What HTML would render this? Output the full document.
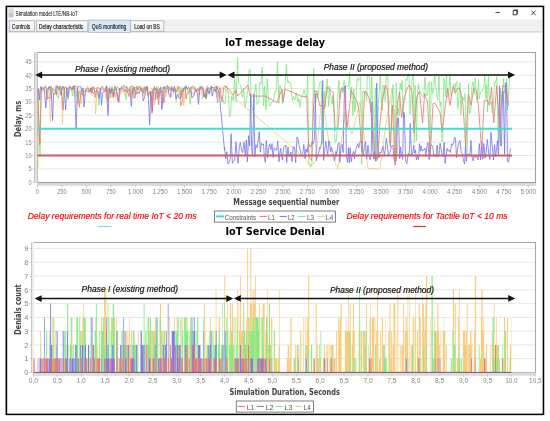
<!DOCTYPE html>
<html><head><meta charset="utf-8"><title>Simulation model LTE/NB-IoT</title><style>html,body{margin:0;padding:0;background:#fff;overflow:hidden}svg{display:block}</style></head><body>
<svg width="550" height="421" viewBox="0 0 550 421"><defs><clipPath id="c1"><rect x="37.5" y="52.5" width="498" height="130"/></clipPath></defs><rect x="0" y="0" width="550" height="421" fill="#fff"/>
<defs><linearGradient id="tg" x1="0" y1="0" x2="0" y2="1"><stop offset="0" stop-color="#eeeeee"/><stop offset="1" stop-color="#f6f3f1"/></linearGradient><linearGradient id="tb" x1="0" y1="0" x2="0" y2="1"><stop offset="0" stop-color="#fcfcfc"/><stop offset="1" stop-color="#f1f1f1"/></linearGradient></defs>
<rect x="7" y="19.5" width="535" height="12" fill="url(#tg)"/>
<rect x="7" y="31.3" width="535" height="1.2" fill="#bcd2ea"/>
<rect x="9.5" y="20.8" width="25.0" height="10.5" fill="url(#tb)" stroke="#b0b0b0" stroke-width="0.8"/>
<text x="11.8" y="28.5" font-family="Liberation Sans, sans-serif" font-size="6.8" font-weight="normal" font-style="normal" fill="#222" text-anchor="start" textLength="18.5" lengthAdjust="spacingAndGlyphs" stroke="#333" stroke-width="0.2">Controls</text>
<rect x="36.5" y="20.8" width="51.3" height="10.5" fill="url(#tb)" stroke="#b0b0b0" stroke-width="0.8"/>
<text x="38.7" y="28.5" font-family="Liberation Sans, sans-serif" font-size="6.8" font-weight="normal" font-style="normal" fill="#222" text-anchor="start" textLength="44.7" lengthAdjust="spacingAndGlyphs" stroke="#333" stroke-width="0.2">Delay characteristic</text>
<rect x="88.8" y="20.2" width="41.7" height="12.3" fill="#dae7f6" stroke="#a9bcd4" stroke-width="0.8"/>
<text x="91.8" y="28.5" font-family="Liberation Sans, sans-serif" font-size="6.8" font-weight="normal" font-style="normal" fill="#222" text-anchor="start" textLength="34.4" lengthAdjust="spacingAndGlyphs" stroke="#333" stroke-width="0.2">QoS monitoring</text>
<rect x="130.7" y="20.8" width="33.10000000000002" height="10.5" fill="url(#tb)" stroke="#b0b0b0" stroke-width="0.8"/>
<text x="134.2" y="28.5" font-family="Liberation Sans, sans-serif" font-size="6.8" font-weight="normal" font-style="normal" fill="#222" text-anchor="start" textLength="25.6" lengthAdjust="spacingAndGlyphs" stroke="#333" stroke-width="0.2">Load on BS</text>
<rect x="8.2" y="8.2" width="5.8" height="9.5" rx="0.8" fill="#d9dee6"/>
<circle cx="11" cy="11.4" r="1.7" fill="#efd9b9"/>
<rect x="9.3" y="13.2" width="3.6" height="3.8" fill="#b9c7da"/>
<text x="15.5" y="16.4" font-family="Liberation Sans, sans-serif" font-size="7.2" font-weight="normal" font-style="normal" fill="#222" text-anchor="start" textLength="62.3" lengthAdjust="spacingAndGlyphs" stroke="#333" stroke-width="0.12">Simulation model LTE/NB-IoT</text>
<rect x="495.5" y="12" width="4.3" height="0.9" fill="#333"/>
<rect x="513.2" y="10.6" width="3.6" height="4.2" fill="none" stroke="#333" stroke-width="0.9"/>
<path d="M514.4 10.4 V9.8 H517.6 V13.6 H517" fill="none" stroke="#333" stroke-width="0.8"/>
<path d="M531.4 10.6 L535.6 15.2 M535.6 10.6 L531.4 15.2" stroke="#333" stroke-width="0.9"/>
<line x1="7.5" y1="7" x2="7.5" y2="414" stroke="#d4dcee" stroke-width="1"/>
<line x1="542.3" y1="7" x2="542.3" y2="414" stroke="#cfd8e6" stroke-width="0.8"/>
<rect x="6.3" y="6.4" width="537.2" height="408" fill="none" stroke="#000" stroke-width="1.5"/>
<text x="275" y="45.6" font-family="DejaVu Sans, sans-serif" font-size="11" font-weight="bold" font-style="normal" fill="#000" text-anchor="middle" textLength="100" lengthAdjust="spacingAndGlyphs">IoT message delay</text>
<line x1="37.5" y1="168.9" x2="535.5" y2="168.9" stroke="#e4e4e4" stroke-width="0.9"/>
<line x1="37.5" y1="155.5" x2="535.5" y2="155.5" stroke="#e4e4e4" stroke-width="0.9"/>
<line x1="37.5" y1="142.1" x2="535.5" y2="142.1" stroke="#e4e4e4" stroke-width="0.9"/>
<line x1="37.5" y1="128.7" x2="535.5" y2="128.7" stroke="#e4e4e4" stroke-width="0.9"/>
<line x1="37.5" y1="115.4" x2="535.5" y2="115.4" stroke="#e4e4e4" stroke-width="0.9"/>
<line x1="37.5" y1="102.0" x2="535.5" y2="102.0" stroke="#e4e4e4" stroke-width="0.9"/>
<line x1="37.5" y1="88.6" x2="535.5" y2="88.6" stroke="#e4e4e4" stroke-width="0.9"/>
<line x1="37.5" y1="75.2" x2="535.5" y2="75.2" stroke="#e4e4e4" stroke-width="0.9"/>
<line x1="37.5" y1="61.8" x2="535.5" y2="61.8" stroke="#e4e4e4" stroke-width="0.9"/>
<rect x="37.5" y="52.5" width="498" height="130" fill="none" stroke="#a0a0a0" stroke-width="1"/>
<rect x="34" y="52" width="3.5" height="131" fill="#e2e2e2"/>
<line x1="34.6" y1="52.5" x2="34.6" y2="183" stroke="#cacaca" stroke-width="1.2"/>
<rect x="37" y="183" width="499" height="2.8" fill="#d8d8d8"/>
<line x1="32.5" y1="182.3" x2="34.6" y2="182.3" stroke="#bbb" stroke-width="0.8"/>
<text x="31.6" y="184.70000000000002" font-family="Liberation Sans, sans-serif" font-size="7" font-weight="normal" font-style="normal" fill="#858585" text-anchor="end" textLength="3.15" lengthAdjust="spacingAndGlyphs">0</text>
<line x1="32.5" y1="168.9" x2="34.6" y2="168.9" stroke="#bbb" stroke-width="0.8"/>
<text x="31.6" y="171.31000000000003" font-family="Liberation Sans, sans-serif" font-size="7" font-weight="normal" font-style="normal" fill="#858585" text-anchor="end" textLength="3.15" lengthAdjust="spacingAndGlyphs">5</text>
<line x1="32.5" y1="155.5" x2="34.6" y2="155.5" stroke="#bbb" stroke-width="0.8"/>
<text x="31.6" y="157.92000000000002" font-family="Liberation Sans, sans-serif" font-size="7" font-weight="normal" font-style="normal" fill="#858585" text-anchor="end" textLength="6.3" lengthAdjust="spacingAndGlyphs">10</text>
<line x1="32.5" y1="142.1" x2="34.6" y2="142.1" stroke="#bbb" stroke-width="0.8"/>
<text x="31.6" y="144.53" font-family="Liberation Sans, sans-serif" font-size="7" font-weight="normal" font-style="normal" fill="#858585" text-anchor="end" textLength="6.3" lengthAdjust="spacingAndGlyphs">15</text>
<line x1="32.5" y1="128.7" x2="34.6" y2="128.7" stroke="#bbb" stroke-width="0.8"/>
<text x="31.6" y="131.14000000000001" font-family="Liberation Sans, sans-serif" font-size="7" font-weight="normal" font-style="normal" fill="#858585" text-anchor="end" textLength="6.3" lengthAdjust="spacingAndGlyphs">20</text>
<line x1="32.5" y1="115.4" x2="34.6" y2="115.4" stroke="#bbb" stroke-width="0.8"/>
<text x="31.6" y="117.75000000000001" font-family="Liberation Sans, sans-serif" font-size="7" font-weight="normal" font-style="normal" fill="#858585" text-anchor="end" textLength="6.3" lengthAdjust="spacingAndGlyphs">25</text>
<line x1="32.5" y1="102.0" x2="34.6" y2="102.0" stroke="#bbb" stroke-width="0.8"/>
<text x="31.6" y="104.36000000000001" font-family="Liberation Sans, sans-serif" font-size="7" font-weight="normal" font-style="normal" fill="#858585" text-anchor="end" textLength="6.3" lengthAdjust="spacingAndGlyphs">30</text>
<line x1="32.5" y1="88.6" x2="34.6" y2="88.6" stroke="#bbb" stroke-width="0.8"/>
<text x="31.6" y="90.97000000000001" font-family="Liberation Sans, sans-serif" font-size="7" font-weight="normal" font-style="normal" fill="#858585" text-anchor="end" textLength="6.3" lengthAdjust="spacingAndGlyphs">35</text>
<line x1="32.5" y1="75.2" x2="34.6" y2="75.2" stroke="#bbb" stroke-width="0.8"/>
<text x="31.6" y="77.58000000000001" font-family="Liberation Sans, sans-serif" font-size="7" font-weight="normal" font-style="normal" fill="#858585" text-anchor="end" textLength="6.3" lengthAdjust="spacingAndGlyphs">40</text>
<line x1="32.5" y1="61.8" x2="34.6" y2="61.8" stroke="#bbb" stroke-width="0.8"/>
<text x="31.6" y="64.19000000000003" font-family="Liberation Sans, sans-serif" font-size="7" font-weight="normal" font-style="normal" fill="#858585" text-anchor="end" textLength="6.3" lengthAdjust="spacingAndGlyphs">45</text>
<line x1="37.4" y1="185.4" x2="37.4" y2="187.3" stroke="#bbb" stroke-width="0.8"/>
<text x="37.4" y="193.6" font-family="Liberation Sans, sans-serif" font-size="7" font-weight="normal" font-style="normal" fill="#858585" text-anchor="middle" textLength="3.15" lengthAdjust="spacingAndGlyphs">0</text>
<line x1="61.9" y1="185.4" x2="61.9" y2="187.3" stroke="#bbb" stroke-width="0.8"/>
<text x="61.9" y="193.6" font-family="Liberation Sans, sans-serif" font-size="7" font-weight="normal" font-style="normal" fill="#858585" text-anchor="middle" textLength="9.45" lengthAdjust="spacingAndGlyphs">250</text>
<line x1="86.5" y1="185.4" x2="86.5" y2="187.3" stroke="#bbb" stroke-width="0.8"/>
<text x="86.5" y="193.6" font-family="Liberation Sans, sans-serif" font-size="7" font-weight="normal" font-style="normal" fill="#858585" text-anchor="middle" textLength="9.45" lengthAdjust="spacingAndGlyphs">500</text>
<line x1="111.0" y1="185.4" x2="111.0" y2="187.3" stroke="#bbb" stroke-width="0.8"/>
<text x="111.0" y="193.6" font-family="Liberation Sans, sans-serif" font-size="7" font-weight="normal" font-style="normal" fill="#858585" text-anchor="middle" textLength="9.45" lengthAdjust="spacingAndGlyphs">750</text>
<line x1="135.6" y1="185.4" x2="135.6" y2="187.3" stroke="#bbb" stroke-width="0.8"/>
<text x="135.6" y="193.6" font-family="Liberation Sans, sans-serif" font-size="7" font-weight="normal" font-style="normal" fill="#858585" text-anchor="middle" textLength="15.2" lengthAdjust="spacingAndGlyphs">1&#8201;000</text>
<line x1="160.2" y1="185.4" x2="160.2" y2="187.3" stroke="#bbb" stroke-width="0.8"/>
<text x="160.2" y="193.6" font-family="Liberation Sans, sans-serif" font-size="7" font-weight="normal" font-style="normal" fill="#858585" text-anchor="middle" textLength="15.2" lengthAdjust="spacingAndGlyphs">1&#8201;250</text>
<line x1="184.7" y1="185.4" x2="184.7" y2="187.3" stroke="#bbb" stroke-width="0.8"/>
<text x="184.7" y="193.6" font-family="Liberation Sans, sans-serif" font-size="7" font-weight="normal" font-style="normal" fill="#858585" text-anchor="middle" textLength="15.2" lengthAdjust="spacingAndGlyphs">1&#8201;500</text>
<line x1="209.2" y1="185.4" x2="209.2" y2="187.3" stroke="#bbb" stroke-width="0.8"/>
<text x="209.2" y="193.6" font-family="Liberation Sans, sans-serif" font-size="7" font-weight="normal" font-style="normal" fill="#858585" text-anchor="middle" textLength="15.2" lengthAdjust="spacingAndGlyphs">1&#8201;750</text>
<line x1="233.8" y1="185.4" x2="233.8" y2="187.3" stroke="#bbb" stroke-width="0.8"/>
<text x="233.8" y="193.6" font-family="Liberation Sans, sans-serif" font-size="7" font-weight="normal" font-style="normal" fill="#858585" text-anchor="middle" textLength="15.2" lengthAdjust="spacingAndGlyphs">2&#8201;000</text>
<line x1="258.3" y1="185.4" x2="258.3" y2="187.3" stroke="#bbb" stroke-width="0.8"/>
<text x="258.3" y="193.6" font-family="Liberation Sans, sans-serif" font-size="7" font-weight="normal" font-style="normal" fill="#858585" text-anchor="middle" textLength="15.2" lengthAdjust="spacingAndGlyphs">2&#8201;250</text>
<line x1="282.9" y1="185.4" x2="282.9" y2="187.3" stroke="#bbb" stroke-width="0.8"/>
<text x="282.9" y="193.6" font-family="Liberation Sans, sans-serif" font-size="7" font-weight="normal" font-style="normal" fill="#858585" text-anchor="middle" textLength="15.2" lengthAdjust="spacingAndGlyphs">2&#8201;500</text>
<line x1="307.4" y1="185.4" x2="307.4" y2="187.3" stroke="#bbb" stroke-width="0.8"/>
<text x="307.4" y="193.6" font-family="Liberation Sans, sans-serif" font-size="7" font-weight="normal" font-style="normal" fill="#858585" text-anchor="middle" textLength="15.2" lengthAdjust="spacingAndGlyphs">2&#8201;750</text>
<line x1="332.0" y1="185.4" x2="332.0" y2="187.3" stroke="#bbb" stroke-width="0.8"/>
<text x="332.0" y="193.6" font-family="Liberation Sans, sans-serif" font-size="7" font-weight="normal" font-style="normal" fill="#858585" text-anchor="middle" textLength="15.2" lengthAdjust="spacingAndGlyphs">3&#8201;000</text>
<line x1="356.5" y1="185.4" x2="356.5" y2="187.3" stroke="#bbb" stroke-width="0.8"/>
<text x="356.5" y="193.6" font-family="Liberation Sans, sans-serif" font-size="7" font-weight="normal" font-style="normal" fill="#858585" text-anchor="middle" textLength="15.2" lengthAdjust="spacingAndGlyphs">3&#8201;250</text>
<line x1="381.1" y1="185.4" x2="381.1" y2="187.3" stroke="#bbb" stroke-width="0.8"/>
<text x="381.1" y="193.6" font-family="Liberation Sans, sans-serif" font-size="7" font-weight="normal" font-style="normal" fill="#858585" text-anchor="middle" textLength="15.2" lengthAdjust="spacingAndGlyphs">3&#8201;500</text>
<line x1="405.6" y1="185.4" x2="405.6" y2="187.3" stroke="#bbb" stroke-width="0.8"/>
<text x="405.6" y="193.6" font-family="Liberation Sans, sans-serif" font-size="7" font-weight="normal" font-style="normal" fill="#858585" text-anchor="middle" textLength="15.2" lengthAdjust="spacingAndGlyphs">3&#8201;750</text>
<line x1="430.2" y1="185.4" x2="430.2" y2="187.3" stroke="#bbb" stroke-width="0.8"/>
<text x="430.2" y="193.6" font-family="Liberation Sans, sans-serif" font-size="7" font-weight="normal" font-style="normal" fill="#858585" text-anchor="middle" textLength="15.2" lengthAdjust="spacingAndGlyphs">4&#8201;000</text>
<line x1="454.7" y1="185.4" x2="454.7" y2="187.3" stroke="#bbb" stroke-width="0.8"/>
<text x="454.7" y="193.6" font-family="Liberation Sans, sans-serif" font-size="7" font-weight="normal" font-style="normal" fill="#858585" text-anchor="middle" textLength="15.2" lengthAdjust="spacingAndGlyphs">4&#8201;250</text>
<line x1="479.3" y1="185.4" x2="479.3" y2="187.3" stroke="#bbb" stroke-width="0.8"/>
<text x="479.3" y="193.6" font-family="Liberation Sans, sans-serif" font-size="7" font-weight="normal" font-style="normal" fill="#858585" text-anchor="middle" textLength="15.2" lengthAdjust="spacingAndGlyphs">4&#8201;500</text>
<line x1="503.8" y1="185.4" x2="503.8" y2="187.3" stroke="#bbb" stroke-width="0.8"/>
<text x="503.8" y="193.6" font-family="Liberation Sans, sans-serif" font-size="7" font-weight="normal" font-style="normal" fill="#858585" text-anchor="middle" textLength="15.2" lengthAdjust="spacingAndGlyphs">4&#8201;750</text>
<line x1="528.4" y1="185.4" x2="528.4" y2="187.3" stroke="#bbb" stroke-width="0.8"/>
<text x="528.4" y="193.6" font-family="Liberation Sans, sans-serif" font-size="7" font-weight="normal" font-style="normal" fill="#858585" text-anchor="middle" textLength="15.2" lengthAdjust="spacingAndGlyphs">5&#8201;000</text>
<text x="286.3" y="205" font-family="DejaVu Sans, sans-serif" font-size="8" font-weight="bold" font-style="normal" fill="#444" text-anchor="middle" textLength="106" lengthAdjust="spacingAndGlyphs">Message sequential number</text>
<text transform="translate(21,118.9) rotate(-90)" x="0" y="0" font-family="DejaVu Sans, sans-serif" font-size="8" font-weight="bold" fill="#444" text-anchor="middle" textLength="36.3" lengthAdjust="spacingAndGlyphs">Delay, ms</text>
<g clip-path="url(#c1)">
<polyline points="37.4,155.5 38.0,167.6 39.0,91.2 40.1,91.4 41.3,91.6 42.5,92.9 44.0,88.6 45.1,91.4 46.2,92.6 47.7,97.7 48.8,87.3 50.4,122.6 51.7,88.8 52.8,91.5 54.4,94.9 55.5,94.7 57.1,95.2 58.3,89.3 59.3,86.8 60.2,88.0 61.3,89.0 62.5,124.5 63.7,88.0 64.8,87.3 65.9,86.2 66.9,90.6 68.4,90.5 69.5,89.1 70.4,86.3 72.1,91.6 73.0,85.8 74.5,86.0 75.8,96.9 76.9,91.2 78.0,104.7 78.9,91.0 80.4,90.2 81.4,103.9 82.4,91.7 83.5,91.1 84.4,90.5 86.0,88.6 87.5,85.7 88.8,89.4 89.7,90.5 91.3,95.3 92.2,90.5 93.2,86.5 94.2,86.1 95.6,113.7 97.2,87.0 98.6,91.5 99.7,92.1 101.3,87.8 102.8,86.8 104.1,87.6 105.2,91.6 106.1,99.6 107.5,86.3 108.5,102.0 109.5,88.0 110.8,91.8 111.8,86.1 112.7,98.4 114.3,92.2 115.6,97.7 117.0,86.3 118.5,88.7 119.4,88.2 120.6,94.4 121.6,87.1 122.9,86.7 124.5,88.6 125.7,96.8 126.7,85.8 127.7,88.1 129.3,89.3 130.8,98.7 132.4,90.1 133.9,86.9 134.9,97.9 135.9,89.9 137.3,93.6 138.1,88.5 139.4,88.9 140.4,86.6 141.5,91.4 142.9,88.1 144.0,95.5 145.6,86.5 147.1,89.2 148.1,96.4 149.5,91.5 150.5,97.9 152.1,88.3 153.3,91.5 154.5,105.9 155.9,90.1 156.8,85.9 158.3,92.8 159.9,88.3 161.2,86.0 162.7,106.4 164.1,87.3 165.5,96.8 167.1,88.2 168.7,90.1 169.7,88.0 171.4,96.1 172.6,97.0 173.8,90.9 175.1,88.1 176.3,102.3 177.3,85.8 178.9,94.4 180.1,90.4 181.1,92.1 182.6,90.5 183.7,106.0 185.3,88.5 186.9,88.7 187.9,91.8 189.0,91.7 190.7,86.3 192.1,94.0 193.8,93.5 195.1,87.4 196.4,91.1 197.9,91.6 199.0,97.2 200.2,86.5 201.3,89.3 202.2,99.1 203.8,91.0 205.4,97.4 206.7,87.4 207.7,91.3 209.2,91.8 210.4,92.6 211.7,88.1 213.3,87.9 214.9,91.8 216.3,86.5 217.7,86.3 219.1,86.7 220.6,92.2 222.0,88.2 224.0,88.6 305.0,158.2 310.0,166.2 316.0,160.9 322.0,93.9 330.0,150.2 338.0,168.9 345.0,112.7 352.0,134.1 360.0,102.0 368.0,168.9 372.0,168.9 380.0,168.9 386.0,123.4 392.0,88.6 398.0,155.5 404.9,155.5 413.0,155.5 420.1,155.5 426.6,155.5 434.4,155.5 441.7,155.5 448.1,155.5 454.6,155.5 462.8,155.5 468.7,155.5 476.8,155.5 484.2,155.5 492.2,155.5 500.1,155.5 508.0,155.5" fill="none" stroke="#f4c872" stroke-width="0.78" stroke-opacity="1" stroke-linejoin="round"/>
<polyline points="37.4,88.6 40.0,155.5 41.3,88.6 42.5,88.6 43.7,88.0 44.6,86.7 45.7,85.7 47.0,95.5 48.3,88.0 49.9,87.3 51.3,87.2 52.7,91.9 54.2,87.4 55.8,86.1 57.0,95.7 58.6,98.5 59.6,85.8 60.8,90.1 62.1,89.8 63.5,86.2 64.9,92.4 66.5,91.0 68.1,100.0 69.4,90.7 71.0,90.2 71.9,91.3 72.9,96.0 73.9,87.1 75.4,88.1 76.3,89.9 77.9,103.3 79.6,91.6 80.9,90.8 82.2,91.0 83.1,96.8 84.7,96.2 86.0,87.9 87.3,88.1 88.9,89.3 90.4,90.1 92.0,88.5 92.9,88.3 93.8,88.0 94.8,89.1 96.2,87.5 97.6,91.7 99.0,105.3 100.3,90.0 101.5,89.7 102.8,89.6 104.3,88.4 105.8,90.6 107.3,90.8 108.5,91.4 109.6,86.7 110.9,97.9 112.0,86.4 113.3,91.3 114.6,86.9 116.1,90.3 117.6,86.9 118.8,90.2 120.3,89.8 121.5,89.4 123.1,92.0 124.7,91.4 125.9,99.9 127.0,92.6 128.4,90.2 129.6,91.6 130.9,86.8 131.8,93.7 133.4,92.1 134.8,87.3 135.8,87.8 137.1,86.0 138.5,90.4 140.0,87.0 141.2,88.6 142.7,87.0 144.3,92.7 145.2,86.5 146.1,90.3 147.4,89.0 148.9,91.7 149.9,91.6 151.5,98.6 152.8,90.0 154.0,88.3 155.2,89.9 156.1,87.4 157.3,90.9 158.5,87.0 159.7,94.3 160.9,88.9 162.3,87.6 163.6,88.6 165.0,89.3 166.2,91.8 167.4,92.9 168.5,91.3 170.0,86.3 171.5,87.3 172.8,88.3 173.7,87.1 174.7,91.4 176.2,91.9 177.8,86.6 179.2,91.6 180.5,99.0 182.0,87.5 183.0,91.8 183.9,88.4 185.4,90.9 186.5,87.2 187.7,89.5 188.9,91.5 190.2,104.0 191.6,87.6 193.1,88.7 194.4,86.3 195.4,87.2 197.0,89.2 198.4,90.3 199.5,90.0 200.5,85.9 201.6,89.4 203.2,90.3 204.3,89.0 205.4,89.7 206.6,98.1 208.2,88.2 209.5,92.7 210.8,87.4 212.4,87.3 214.0,90.6 215.1,87.7 216.7,97.3 217.7,90.8 219.2,92.1 220.3,96.8 221.5,98.6 222.4,96.9 224.0,104.0 225.2,103.2 226.3,85.0 227.3,87.8 228.4,94.1 229.6,117.0 230.6,113.7 231.7,96.6 233.3,100.9 234.6,79.2 236.1,101.3 237.5,57.8 238.5,81.7 239.9,83.8 241.3,88.4 242.4,97.4 243.6,88.3 245.1,107.6 246.6,98.3 247.7,91.2 249.1,69.8 250.2,69.8 251.5,104.5 252.8,111.1 254.3,93.9 255.8,84.1 257.1,104.4 258.7,101.6 259.8,82.2 261.1,84.1 262.2,67.1 263.6,106.2 264.6,86.0 266.0,109.8 267.2,78.3 268.3,96.3 269.5,106.0 270.5,105.8 271.9,101.6 273.4,101.9 274.6,91.9 276.1,91.9 277.5,61.8 278.9,103.4 280.0,85.4 281.5,90.2 282.6,103.8 283.8,96.1 285.0,86.4 286.3,64.5 287.7,82.9 288.7,80.9 289.8,83.3 291.0,83.2 292.3,101.0 293.4,96.5 294.9,100.0 296.2,92.6 297.8,102.0 298.8,98.6 300.0,107.3 301.2,98.5 302.7,95.4 304.2,89.5 305.7,97.9 306.7,96.7 307.7,75.5 308.8,162.4 309.7,164.3 310.8,167.2 312.0,164.0 312.8,107.0 313.7,68.5 314.5,88.1 315.8,100.6 316.8,90.5 317.8,98.0 318.6,89.6 319.6,82.7 320.9,81.5 321.8,99.4 323.0,144.1 324.2,91.0 325.2,107.0 326.4,81.4 327.4,79.0 328.6,106.2 329.8,86.3 331.0,98.1 332.1,104.0 332.9,95.5 333.9,111.3 334.8,140.1 335.9,142.8 336.8,135.1 337.7,98.9 338.9,80.0 339.9,99.3 341.0,88.3 342.0,88.4 342.8,93.1 344.0,80.2 344.9,84.8 346.1,85.3 347.2,86.6 348.4,86.7 349.6,72.1 350.4,97.8 351.7,86.9 352.9,115.7 353.9,89.0 354.7,112.3 355.7,104.8 356.7,83.3 357.5,77.8 358.4,81.2 359.5,77.8 360.6,76.7 361.7,164.4 362.6,92.2 363.4,90.3 364.4,93.6 365.6,90.6 366.6,100.9 367.4,74.6 368.6,76.7 369.6,77.5 370.7,112.3 371.7,77.1 372.5,101.6 373.6,108.9 374.4,159.3 375.3,88.2 376.2,161.2 377.2,159.3 378.3,102.5 379.3,91.4 380.3,74.4 381.1,92.5 382.3,110.4 383.1,85.4 384.3,88.9 385.3,101.2 386.2,74.5 387.5,74.6 388.4,97.5 389.5,142.8 390.7,143.1 391.8,101.0 393.0,84.4 393.9,111.6 394.9,161.5 396.2,82.9 397.3,115.3 398.3,108.3 399.2,116.1 400.1,83.1 401.2,89.6 402.1,80.6 403.1,117.3 404.1,98.7 405.2,99.9 406.0,78.6 407.0,80.4 408.1,73.5 409.0,74.1 410.1,114.4 411.1,95.6 412.1,79.0 413.2,74.0 414.3,142.4 415.1,85.0 416.4,140.6 417.4,94.8 418.4,83.4 419.5,92.1 420.4,91.8 421.7,95.0 422.7,96.3 423.7,96.7 424.9,77.2 426.0,93.9 427.2,96.0 428.2,84.3 429.2,82.2 430.1,152.3 431.3,81.8 432.5,93.5 433.5,92.5 434.6,75.3 435.6,84.3 436.8,96.0 437.8,99.9 439.0,76.1 440.0,106.4 441.0,102.0 441.8,141.5 442.8,139.7 443.8,78.5 444.7,81.1 445.6,96.5 446.4,74.0 447.4,97.2 448.7,95.3 449.9,74.3 451.0,96.7 451.8,92.7 452.9,90.6 453.9,83.9 454.9,93.9 455.7,83.9 456.9,81.4 457.9,109.2 459.0,96.3 459.9,82.5 460.9,115.1 462.0,99.0 462.9,96.6 464.1,100.6 465.1,93.5 466.1,153.0 467.2,150.5 468.5,83.5 469.7,113.7 470.9,110.1 471.8,88.0 473.0,81.8 474.2,94.0 475.4,77.8 476.6,100.5 477.6,96.7 478.5,79.3 479.3,98.9 480.5,91.9 481.7,91.0 482.9,89.1 483.9,88.2 484.7,74.5 485.9,98.1 486.7,84.7 487.5,112.0 488.4,76.3 489.4,100.6 490.4,102.9 491.4,102.0 492.3,113.5 493.6,102.4 494.5,82.1 495.6,83.2 496.8,76.6 498.1,141.0 499.1,142.4 500.4,88.8 501.6,100.7 502.6,95.3 503.7,78.1 504.6,93.4 505.6,87.5 506.6,78.7 507.6,109.7 508.8,88.0 510.1,74.5" fill="none" stroke="#7ce87c" stroke-width="0.78" stroke-opacity="1" stroke-linejoin="round"/>
<polyline points="37.4,102.0 38.4,88.6 39.6,99.7 40.5,86.7 42.0,90.1 43.3,88.3 44.3,89.5 45.8,107.9 47.1,90.3 48.0,89.1 49.1,86.3 50.4,90.5 51.3,91.2 52.6,120.6 53.6,92.9 55.1,93.2 56.6,85.7 58.2,87.2 59.7,88.6 61.0,95.3 62.5,86.4 64.1,88.4 65.7,110.0 66.7,87.6 67.8,97.1 69.4,85.9 70.8,88.7 72.2,90.0 73.2,86.0 74.6,86.8 76.1,129.3 77.5,87.9 78.6,86.4 79.6,86.6 80.7,86.4 81.9,91.8 83.1,87.7 84.0,107.1 85.5,90.4 87.0,90.9 88.4,91.8 90.1,91.8 91.2,87.3 92.2,91.9 93.4,93.3 95.0,92.4 96.5,90.6 97.9,91.4 99.1,98.3 100.5,88.7 101.5,105.2 102.8,91.9 104.1,91.7 105.0,91.4 106.4,85.7 108.0,115.5 109.3,88.3 110.7,93.6 111.7,88.7 112.6,89.4 113.6,97.3 114.6,90.6 115.6,89.1 116.7,90.7 118.3,101.5 119.6,88.3 120.5,88.7 121.5,86.9 122.7,86.1 124.1,85.7 125.2,87.6 126.2,86.6 127.6,89.2 128.8,90.7 130.2,90.2 131.3,106.7 132.8,88.4 134.0,87.2 135.2,91.3 136.1,94.1 137.8,91.9 139.2,93.5 140.5,89.1 142.0,88.7 143.2,100.9 144.8,96.9 145.9,90.4 147.1,86.1 148.5,98.5 149.6,124.9 150.8,91.5 152.4,111.1 153.4,90.6 154.8,89.2 156.1,88.6 157.8,98.5 159.0,90.4 160.6,87.5 161.8,109.6 163.2,89.2 164.1,86.4 165.1,89.0 166.3,86.0 167.7,85.9 168.9,94.0 170.4,97.5 171.7,87.8 173.4,92.0 174.6,86.4 176.0,99.1 177.7,94.4 179.3,98.5 180.8,97.7 182.2,90.8 183.8,88.1 185.0,88.4 186.2,85.8 187.2,88.9 188.7,87.2 190.0,89.9 191.1,91.9 192.0,97.9 193.5,96.0 194.9,92.3 195.9,89.6 197.1,92.0 198.5,104.4 199.8,89.2 201.3,87.9 202.6,86.2 203.6,96.8 204.9,94.0 206.1,98.5 207.5,88.6 209.1,94.2 210.2,89.1 211.3,85.9 212.2,96.2 213.4,91.6 214.6,89.2 215.8,91.9 217.0,86.1 218.1,90.5 219.0,91.2 224.5,150.2 224.5,147.5 225.7,158.9 226.9,151.7 228.0,164.0 229.0,162.4 230.3,158.5 231.1,133.7 232.4,163.3 233.3,161.3 234.7,160.4 236.0,141.7 237.0,155.8 238.1,163.2 239.4,145.3 240.3,142.5 241.5,150.1 242.7,152.6 244.0,141.8 245.3,155.3 246.4,140.1 247.4,161.8 248.6,135.7 249.7,146.1 250.6,93.9 251.7,149.1 252.6,155.7 253.9,93.9 254.9,156.7 255.8,144.5 257.0,147.6 258.2,141.0 259.2,131.7 260.4,152.3 261.4,143.0 262.3,144.7 263.5,143.9 264.3,157.1 265.3,162.4 266.3,140.4 267.6,158.0 268.9,146.5 269.7,143.9 271.0,149.6 272.0,143.6 273.0,157.4 274.2,147.6 275.6,149.8 276.7,150.0 277.7,141.0 279.0,161.8 279.8,153.3 280.7,148.3 281.5,156.3 282.6,160.1 283.5,147.0 284.6,147.0 285.9,145.0 286.7,162.6 288.0,146.9 288.9,156.5 289.7,156.6 291.0,152.0 292.1,161.7 293.3,146.4 294.6,147.2 295.7,162.6 297.0,136.9 298.0,139.1 298.8,144.5 300.0,149.1 300.8,153.4 301.9,154.4 302.8,153.6 303.8,144.4 305.0,158.4 306.0,148.9 307.3,152.5 308.4,142.6 309.7,145.8 310.8,147.2 312.0,142.0 313.0,144.2 314.4,139.9 315.4,93.9 316.3,160.6 317.4,156.8 318.8,152.9 319.6,147.1 320.5,148.6 321.7,141.2 322.7,80.5 323.6,160.4 324.8,149.7 325.8,141.4 326.8,149.2 327.8,154.8 328.7,140.9 329.5,141.6 330.7,152.0 331.5,147.2 332.5,151.0 333.3,153.1 334.6,160.8 335.9,151.3 336.7,154.4 337.8,144.8 339.1,142.8 339.9,162.2 341.2,145.8 342.1,144.4 343.2,152.7 344.5,85.9 345.5,85.9 346.4,156.9 347.6,162.4 348.4,147.7 349.3,162.7 350.1,147.7 351.3,161.6 352.6,154.2 353.8,151.4 354.6,158.9 355.4,151.3 356.6,147.0 357.7,143.6 358.9,147.7 359.8,142.3 360.9,140.7 362.0,141.5 363.2,155.6 364.4,145.9 365.5,141.7 366.6,159.1 368.0,145.4 369.2,155.4 370.1,159.8 371.2,155.4 372.0,102.0 372.8,150.1 373.6,159.0 374.5,151.5 375.8,161.1 376.7,83.2 377.8,145.5 379.0,158.0 380.0,152.3 381.0,153.0 381.8,150.0 383.0,146.5 384.4,154.6 385.2,150.1 386.3,138.3 387.2,144.5 388.3,155.2 389.6,153.0 390.6,149.7 391.8,146.0 392.8,145.2 394.0,159.3 395.3,162.2 396.3,160.6 397.6,118.0 398.5,118.0 399.7,158.8 400.6,146.9 401.5,156.0 402.7,159.4 403.6,112.7 404.4,112.7 405.6,161.1 406.9,163.6 408.1,153.4 409.2,155.1 410.3,123.4 411.5,155.7 412.7,153.1 413.8,145.1 414.6,153.1 415.5,150.0 416.4,160.1 417.6,156.2 418.5,159.6 419.4,143.7 420.3,151.2 421.2,145.8 422.1,151.1 422.9,149.6 423.8,150.2 425.0,148.1 425.8,156.4 427.1,145.2 427.9,142.6 429.2,159.7 430.5,144.8 431.4,144.8 432.7,146.7 433.8,155.9 435.0,154.7 436.2,157.2 437.1,145.0 438.3,156.7 439.2,153.4 440.1,143.2 441.1,149.0 442.2,155.3 443.1,156.8 444.1,142.1 445.1,163.3 446.0,156.0 447.2,148.4 448.2,151.4 449.2,149.8 450.5,152.5 451.5,143.7 452.4,145.5 453.6,142.9 454.5,137.2 455.5,138.6 456.5,157.5 457.5,149.3 458.7,143.1 460.0,140.5 461.1,151.7 462.4,153.7 463.6,161.0 464.6,164.0 465.5,145.7 466.3,161.4 467.4,153.3 468.6,154.6 469.8,155.7 471.0,140.5 471.9,156.6 473.1,160.8 474.1,155.6 475.3,157.4 476.5,155.9 477.4,159.0 478.2,159.9 479.3,143.6 480.6,160.0 481.8,141.7 482.8,158.9 483.8,143.5 485.1,158.2 486.0,153.6 487.3,139.3 488.7,153.0 489.9,159.6 491.0,132.4 492.3,146.9 493.4,160.1 494.5,144.7 495.7,156.6 496.6,148.9 497.4,140.8 498.5,155.3 499.6,85.9 500.6,146.0 501.5,145.7 502.5,91.2 503.3,91.2 504.6,154.2 505.6,83.2 506.5,83.2 507.5,161.3 508.6,162.2 509.5,155.9 510.5,148.2" fill="none" stroke="#7070ee" stroke-width="0.78" stroke-opacity="1" stroke-linejoin="round"/>
<polyline points="37.4,88.6 39.9,144.8 41.1,88.6 42.3,86.6 43.8,88.9 45.0,87.0 46.0,86.7 47.2,99.3 48.4,97.4 50.1,99.0 51.0,86.0 52.2,89.3 53.1,89.2 54.3,90.6 55.4,90.2 56.3,94.8 57.7,85.7 59.2,89.9 60.7,86.0 61.9,93.9 63.0,110.0 64.6,88.3 65.5,86.9 66.7,88.5 68.1,89.6 69.4,87.0 70.7,88.9 71.6,87.5 73.2,89.5 74.2,85.7 75.7,86.5 76.8,85.9 78.1,90.3 79.4,107.3 80.9,92.2 82.4,95.1 83.7,91.7 85.3,90.8 86.6,89.8 87.7,88.0 89.1,91.9 90.2,88.3 91.7,92.9 93.3,86.6 94.7,91.9 95.6,97.3 96.5,89.8 97.5,88.7 98.5,87.5 99.7,89.0 100.6,89.3 101.7,86.3 102.9,88.2 104.5,91.9 105.5,91.0 106.9,88.6 108.0,100.9 109.3,87.9 110.4,90.0 111.8,90.1 113.5,96.8 115.0,86.0 116.5,90.4 117.4,99.0 118.9,102.7 119.9,91.5 121.4,89.6 122.5,87.7 123.8,91.4 125.2,88.8 126.3,92.1 127.2,89.9 128.9,96.6 129.9,86.7 131.5,86.4 132.9,85.7 134.0,98.6 135.0,97.6 136.5,86.6 137.7,90.2 139.2,85.9 140.8,88.5 141.8,91.6 143.4,92.6 144.5,87.0 145.7,90.6 146.6,86.3 148.0,95.6 149.1,92.6 150.0,91.5 150.9,99.0 152.0,113.5 153.0,90.5 154.5,86.2 155.6,100.0 156.7,89.0 157.7,91.8 158.6,104.9 160.0,90.0 160.9,91.5 162.5,90.7 163.9,103.0 165.3,90.4 166.6,90.5 167.6,85.7 168.8,87.9 170.4,90.1 171.6,86.6 173.2,89.9 174.5,88.2 175.6,90.5 176.5,91.6 177.4,90.2 178.9,86.5 180.0,86.9 180.9,105.9 182.4,100.7 183.5,88.7 185.1,86.3 186.1,99.0 187.3,92.8 188.9,93.3 190.3,89.3 191.3,87.8 192.4,85.9 193.9,88.6 195.4,89.5 196.6,91.9 198.0,88.4 198.9,91.2 199.9,86.7 201.1,88.1 202.2,88.7 203.4,89.2 204.9,97.4 206.1,90.6 207.3,86.2 208.9,87.9 209.9,88.8 211.4,87.1 213.0,87.6 214.6,87.5 216.0,86.5 217.6,102.7 218.6,90.7 220.0,87.5 222.0,102.0 224.0,85.9 229.0,89.1 233.0,95.0 236.0,89.9 237.5,96.1 248.0,85.1 250.0,96.1 265.0,96.1 277.0,102.5 282.0,89.1 283.0,102.0 285.0,89.1 301.0,96.1 307.0,96.9 307.0,103.8 309.0,156.9 311.6,160.5 314.2,90.4 316.8,92.3 319.8,105.8 321.8,105.5 324.5,108.4 327.4,86.8 330.4,90.5 333.2,92.1 335.2,130.1 338.0,127.7 340.2,93.7 342.3,87.3 344.5,92.1 346.9,128.8 349.3,109.4 351.3,90.5 353.7,95.5 356.8,101.4 358.8,108.9 361.8,152.2 364.6,92.3 366.6,92.4 369.4,98.8 372.4,124.2 374.8,154.4 377.6,159.6 380.0,123.6 382.1,102.6 385.2,85.2 387.5,89.9 390.3,146.7 392.4,105.2 395.1,165.2 397.2,105.8 399.5,91.9 401.5,117.5 404.3,96.7 407.4,88.0 409.3,84.8 412.0,92.6 414.0,133.1 416.9,96.3 419.5,91.7 422.6,123.0 424.6,93.6 427.6,102.5 430.2,156.0 433.1,103.6 435.6,103.8 437.7,108.1 440.2,113.3 442.1,131.5 444.9,109.3 447.7,88.5 450.0,105.4 453.0,86.6 455.5,92.4 458.1,87.9 460.2,89.5 463.0,105.0 465.6,146.1 468.4,94.8 471.2,105.2 473.6,88.5 476.6,90.9 478.6,108.2 481.6,150.2 484.3,100.0 487.2,100.1 489.5,105.4 491.5,87.4 493.8,122.9 496.7,85.8 499.9,130.7 502.7,85.5 505.8,87.2 508.7,105.5" fill="none" stroke="#ea7070" stroke-width="0.78" stroke-opacity="1" stroke-linejoin="round"/>
</g>
<line x1="37.5" y1="128.7" x2="512" y2="128.7" stroke="#3ee0cc" stroke-width="2"/>
<line x1="37.5" y1="155.5" x2="512" y2="155.5" stroke="#c86060" stroke-width="2"/>
<line x1="40.2" y1="75" x2="221.6" y2="75" stroke="#111" stroke-width="1.5"/><polygon points="35.2,75 42.2,71.6 42.2,78.4" fill="#111"/><polygon points="226.6,75 219.6,71.6 219.6,78.4" fill="#111"/>
<line x1="232.5" y1="75" x2="510" y2="75" stroke="#111" stroke-width="1.5"/><polygon points="227.5,75 234.5,71.6 234.5,78.4" fill="#111"/><polygon points="515,75 508.0,71.6 508.0,78.4" fill="#111"/>
<text x="75" y="71.6" font-family="Liberation Sans, sans-serif" font-size="8.7" font-weight="normal" font-style="italic" fill="#111" text-anchor="start" textLength="95" lengthAdjust="spacingAndGlyphs" stroke="#111" stroke-width="0.18">Phase I (existing method)</text>
<text x="323.7" y="69.5" font-family="Liberation Sans, sans-serif" font-size="8.7" font-weight="normal" font-style="italic" fill="#111" text-anchor="start" textLength="104.3" lengthAdjust="spacingAndGlyphs" stroke="#111" stroke-width="0.18">Phase II (proposed method)</text>
<rect x="214.4" y="211" width="121" height="11.1" fill="#fff" stroke="#707070" stroke-width="0.9"/>
<line x1="215.9" y1="216.4" x2="224.2" y2="216.4" stroke="#3ee0cc" stroke-width="2"/>
<text x="224.7" y="219.6" font-family="Liberation Sans, sans-serif" font-size="7" font-weight="normal" font-style="normal" fill="#555" text-anchor="start" textLength="31.4" lengthAdjust="spacingAndGlyphs">Constraints</text>
<line x1="259.6" y1="216.4" x2="266.7" y2="216.4" stroke="#ea7070" stroke-width="1"/>
<text x="268" y="219.6" font-family="Liberation Sans, sans-serif" font-size="7" font-weight="normal" font-style="normal" fill="#555" text-anchor="start" textLength="7" lengthAdjust="spacingAndGlyphs">L1</text>
<line x1="279.7" y1="216.4" x2="286.8" y2="216.4" stroke="#7070ee" stroke-width="1"/>
<text x="288" y="219.6" font-family="Liberation Sans, sans-serif" font-size="7" font-weight="normal" font-style="normal" fill="#555" text-anchor="start" textLength="6.6" lengthAdjust="spacingAndGlyphs">L2</text>
<line x1="298" y1="216.4" x2="305.7" y2="216.4" stroke="#7ce87c" stroke-width="1"/>
<text x="307" y="219.6" font-family="Liberation Sans, sans-serif" font-size="7" font-weight="normal" font-style="normal" fill="#555" text-anchor="start" textLength="7" lengthAdjust="spacingAndGlyphs">L3</text>
<line x1="317.6" y1="216.4" x2="324.7" y2="216.4" stroke="#f4c872" stroke-width="1"/>
<text x="325.8" y="219.6" font-family="Liberation Sans, sans-serif" font-size="7" font-weight="normal" font-style="normal" fill="#555" text-anchor="start" textLength="7.6" lengthAdjust="spacingAndGlyphs">L4</text>
<text x="27.7" y="219.3" font-family="Liberation Sans, sans-serif" font-size="8.8" font-weight="normal" font-style="italic" fill="#ff0000" text-anchor="start" textLength="169" lengthAdjust="spacingAndGlyphs" stroke="#f00" stroke-width="0.15">Delay requirements for real time IoT &lt; 20 ms</text>
<text x="346.6" y="219.3" font-family="Liberation Sans, sans-serif" font-size="8.8" font-weight="normal" font-style="italic" fill="#ff0000" text-anchor="start" textLength="161" lengthAdjust="spacingAndGlyphs" stroke="#f00" stroke-width="0.15">Delay requirements for Tactile IoT &lt; 10 ms</text>
<line x1="97.9" y1="226.5" x2="111.4" y2="226.5" stroke="#6ee4da" stroke-width="1.1"/>
<line x1="413.2" y1="226.5" x2="425.9" y2="226.5" stroke="#e03030" stroke-width="1.2"/>
<text x="275" y="235" font-family="DejaVu Sans, sans-serif" font-size="11" font-weight="bold" font-style="normal" fill="#000" text-anchor="middle" textLength="99" lengthAdjust="spacingAndGlyphs">IoT Service Denial</text>
<line x1="33.5" y1="358.6" x2="535.5" y2="358.6" stroke="#e4e4e4" stroke-width="0.9"/>
<line x1="33.5" y1="344.9" x2="535.5" y2="344.9" stroke="#e4e4e4" stroke-width="0.9"/>
<line x1="33.5" y1="331.1" x2="535.5" y2="331.1" stroke="#e4e4e4" stroke-width="0.9"/>
<line x1="33.5" y1="317.4" x2="535.5" y2="317.4" stroke="#e4e4e4" stroke-width="0.9"/>
<line x1="33.5" y1="303.6" x2="535.5" y2="303.6" stroke="#e4e4e4" stroke-width="0.9"/>
<line x1="33.5" y1="289.8" x2="535.5" y2="289.8" stroke="#e4e4e4" stroke-width="0.9"/>
<line x1="33.5" y1="276.1" x2="535.5" y2="276.1" stroke="#e4e4e4" stroke-width="0.9"/>
<line x1="33.5" y1="262.3" x2="535.5" y2="262.3" stroke="#e4e4e4" stroke-width="0.9"/>
<line x1="33.5" y1="248.6" x2="535.5" y2="248.6" stroke="#e4e4e4" stroke-width="0.9"/>
<rect x="33.5" y="242.5" width="502" height="130.2" fill="none" stroke="#a8a8a8" stroke-width="1"/>
<rect x="31" y="242" width="3" height="131" fill="#ececec"/>
<line x1="31.5" y1="242.5" x2="31.5" y2="373" stroke="#c8c8c8" stroke-width="1"/>
<rect x="33" y="373" width="503" height="2.8" fill="#dcdcdc"/>
<line x1="29.5" y1="372.4" x2="31.4" y2="372.4" stroke="#bbb" stroke-width="0.8"/>
<text x="26.4" y="375.2" font-family="Liberation Sans, sans-serif" font-size="7.9" font-weight="normal" font-style="normal" fill="#858585" text-anchor="middle" textLength="4.1" lengthAdjust="spacingAndGlyphs">0</text>
<line x1="29.5" y1="358.6" x2="31.4" y2="358.6" stroke="#bbb" stroke-width="0.8"/>
<text x="26.4" y="361.44" font-family="Liberation Sans, sans-serif" font-size="7.9" font-weight="normal" font-style="normal" fill="#858585" text-anchor="middle" textLength="4.1" lengthAdjust="spacingAndGlyphs">1</text>
<line x1="29.5" y1="344.9" x2="31.4" y2="344.9" stroke="#bbb" stroke-width="0.8"/>
<text x="26.4" y="347.68" font-family="Liberation Sans, sans-serif" font-size="7.9" font-weight="normal" font-style="normal" fill="#858585" text-anchor="middle" textLength="4.1" lengthAdjust="spacingAndGlyphs">2</text>
<line x1="29.5" y1="331.1" x2="31.4" y2="331.1" stroke="#bbb" stroke-width="0.8"/>
<text x="26.4" y="333.92" font-family="Liberation Sans, sans-serif" font-size="7.9" font-weight="normal" font-style="normal" fill="#858585" text-anchor="middle" textLength="4.1" lengthAdjust="spacingAndGlyphs">3</text>
<line x1="29.5" y1="317.4" x2="31.4" y2="317.4" stroke="#bbb" stroke-width="0.8"/>
<text x="26.4" y="320.15999999999997" font-family="Liberation Sans, sans-serif" font-size="7.9" font-weight="normal" font-style="normal" fill="#858585" text-anchor="middle" textLength="4.1" lengthAdjust="spacingAndGlyphs">4</text>
<line x1="29.5" y1="303.6" x2="31.4" y2="303.6" stroke="#bbb" stroke-width="0.8"/>
<text x="26.4" y="306.4" font-family="Liberation Sans, sans-serif" font-size="7.9" font-weight="normal" font-style="normal" fill="#858585" text-anchor="middle" textLength="4.1" lengthAdjust="spacingAndGlyphs">5</text>
<line x1="29.5" y1="289.8" x2="31.4" y2="289.8" stroke="#bbb" stroke-width="0.8"/>
<text x="26.4" y="292.64" font-family="Liberation Sans, sans-serif" font-size="7.9" font-weight="normal" font-style="normal" fill="#858585" text-anchor="middle" textLength="4.1" lengthAdjust="spacingAndGlyphs">6</text>
<line x1="29.5" y1="276.1" x2="31.4" y2="276.1" stroke="#bbb" stroke-width="0.8"/>
<text x="26.4" y="278.88" font-family="Liberation Sans, sans-serif" font-size="7.9" font-weight="normal" font-style="normal" fill="#858585" text-anchor="middle" textLength="4.1" lengthAdjust="spacingAndGlyphs">7</text>
<line x1="29.5" y1="262.3" x2="31.4" y2="262.3" stroke="#bbb" stroke-width="0.8"/>
<text x="26.4" y="265.12" font-family="Liberation Sans, sans-serif" font-size="7.9" font-weight="normal" font-style="normal" fill="#858585" text-anchor="middle" textLength="4.1" lengthAdjust="spacingAndGlyphs">8</text>
<line x1="29.5" y1="248.6" x2="31.4" y2="248.6" stroke="#bbb" stroke-width="0.8"/>
<text x="26.4" y="251.35999999999999" font-family="Liberation Sans, sans-serif" font-size="7.9" font-weight="normal" font-style="normal" fill="#858585" text-anchor="middle" textLength="4.1" lengthAdjust="spacingAndGlyphs">9</text>
<line x1="33.4" y1="374.6" x2="33.4" y2="376.4" stroke="#bbb" stroke-width="0.8"/>
<text x="33.4" y="382.8" font-family="Liberation Sans, sans-serif" font-size="7" font-weight="normal" font-style="normal" fill="#858585" text-anchor="middle" textLength="9.2" lengthAdjust="spacingAndGlyphs">0,0</text>
<line x1="57.3" y1="374.6" x2="57.3" y2="376.4" stroke="#bbb" stroke-width="0.8"/>
<text x="57.3" y="382.8" font-family="Liberation Sans, sans-serif" font-size="7" font-weight="normal" font-style="normal" fill="#858585" text-anchor="middle" textLength="9.2" lengthAdjust="spacingAndGlyphs">0,5</text>
<line x1="81.2" y1="374.6" x2="81.2" y2="376.4" stroke="#bbb" stroke-width="0.8"/>
<text x="81.2" y="382.8" font-family="Liberation Sans, sans-serif" font-size="7" font-weight="normal" font-style="normal" fill="#858585" text-anchor="middle" textLength="9.2" lengthAdjust="spacingAndGlyphs">1,0</text>
<line x1="105.1" y1="374.6" x2="105.1" y2="376.4" stroke="#bbb" stroke-width="0.8"/>
<text x="105.1" y="382.8" font-family="Liberation Sans, sans-serif" font-size="7" font-weight="normal" font-style="normal" fill="#858585" text-anchor="middle" textLength="9.2" lengthAdjust="spacingAndGlyphs">1,5</text>
<line x1="129.0" y1="374.6" x2="129.0" y2="376.4" stroke="#bbb" stroke-width="0.8"/>
<text x="129.0" y="382.8" font-family="Liberation Sans, sans-serif" font-size="7" font-weight="normal" font-style="normal" fill="#858585" text-anchor="middle" textLength="9.2" lengthAdjust="spacingAndGlyphs">2,0</text>
<line x1="152.9" y1="374.6" x2="152.9" y2="376.4" stroke="#bbb" stroke-width="0.8"/>
<text x="152.9" y="382.8" font-family="Liberation Sans, sans-serif" font-size="7" font-weight="normal" font-style="normal" fill="#858585" text-anchor="middle" textLength="9.2" lengthAdjust="spacingAndGlyphs">2,5</text>
<line x1="176.8" y1="374.6" x2="176.8" y2="376.4" stroke="#bbb" stroke-width="0.8"/>
<text x="176.8" y="382.8" font-family="Liberation Sans, sans-serif" font-size="7" font-weight="normal" font-style="normal" fill="#858585" text-anchor="middle" textLength="9.2" lengthAdjust="spacingAndGlyphs">3,0</text>
<line x1="200.7" y1="374.6" x2="200.7" y2="376.4" stroke="#bbb" stroke-width="0.8"/>
<text x="200.7" y="382.8" font-family="Liberation Sans, sans-serif" font-size="7" font-weight="normal" font-style="normal" fill="#858585" text-anchor="middle" textLength="9.2" lengthAdjust="spacingAndGlyphs">3,5</text>
<line x1="224.6" y1="374.6" x2="224.6" y2="376.4" stroke="#bbb" stroke-width="0.8"/>
<text x="224.6" y="382.8" font-family="Liberation Sans, sans-serif" font-size="7" font-weight="normal" font-style="normal" fill="#858585" text-anchor="middle" textLength="9.2" lengthAdjust="spacingAndGlyphs">4,0</text>
<line x1="248.5" y1="374.6" x2="248.5" y2="376.4" stroke="#bbb" stroke-width="0.8"/>
<text x="248.5" y="382.8" font-family="Liberation Sans, sans-serif" font-size="7" font-weight="normal" font-style="normal" fill="#858585" text-anchor="middle" textLength="9.2" lengthAdjust="spacingAndGlyphs">4,5</text>
<line x1="272.4" y1="374.6" x2="272.4" y2="376.4" stroke="#bbb" stroke-width="0.8"/>
<text x="272.4" y="382.8" font-family="Liberation Sans, sans-serif" font-size="7" font-weight="normal" font-style="normal" fill="#858585" text-anchor="middle" textLength="9.2" lengthAdjust="spacingAndGlyphs">5,0</text>
<line x1="296.3" y1="374.6" x2="296.3" y2="376.4" stroke="#bbb" stroke-width="0.8"/>
<text x="296.3" y="382.8" font-family="Liberation Sans, sans-serif" font-size="7" font-weight="normal" font-style="normal" fill="#858585" text-anchor="middle" textLength="9.2" lengthAdjust="spacingAndGlyphs">5,5</text>
<line x1="320.2" y1="374.6" x2="320.2" y2="376.4" stroke="#bbb" stroke-width="0.8"/>
<text x="320.2" y="382.8" font-family="Liberation Sans, sans-serif" font-size="7" font-weight="normal" font-style="normal" fill="#858585" text-anchor="middle" textLength="9.2" lengthAdjust="spacingAndGlyphs">6,0</text>
<line x1="344.1" y1="374.6" x2="344.1" y2="376.4" stroke="#bbb" stroke-width="0.8"/>
<text x="344.1" y="382.8" font-family="Liberation Sans, sans-serif" font-size="7" font-weight="normal" font-style="normal" fill="#858585" text-anchor="middle" textLength="9.2" lengthAdjust="spacingAndGlyphs">6,5</text>
<line x1="368.0" y1="374.6" x2="368.0" y2="376.4" stroke="#bbb" stroke-width="0.8"/>
<text x="368.0" y="382.8" font-family="Liberation Sans, sans-serif" font-size="7" font-weight="normal" font-style="normal" fill="#858585" text-anchor="middle" textLength="9.2" lengthAdjust="spacingAndGlyphs">7,0</text>
<line x1="391.9" y1="374.6" x2="391.9" y2="376.4" stroke="#bbb" stroke-width="0.8"/>
<text x="391.9" y="382.8" font-family="Liberation Sans, sans-serif" font-size="7" font-weight="normal" font-style="normal" fill="#858585" text-anchor="middle" textLength="9.2" lengthAdjust="spacingAndGlyphs">7,5</text>
<line x1="415.8" y1="374.6" x2="415.8" y2="376.4" stroke="#bbb" stroke-width="0.8"/>
<text x="415.8" y="382.8" font-family="Liberation Sans, sans-serif" font-size="7" font-weight="normal" font-style="normal" fill="#858585" text-anchor="middle" textLength="9.2" lengthAdjust="spacingAndGlyphs">8,0</text>
<line x1="439.7" y1="374.6" x2="439.7" y2="376.4" stroke="#bbb" stroke-width="0.8"/>
<text x="439.7" y="382.8" font-family="Liberation Sans, sans-serif" font-size="7" font-weight="normal" font-style="normal" fill="#858585" text-anchor="middle" textLength="9.2" lengthAdjust="spacingAndGlyphs">8,5</text>
<line x1="463.6" y1="374.6" x2="463.6" y2="376.4" stroke="#bbb" stroke-width="0.8"/>
<text x="463.6" y="382.8" font-family="Liberation Sans, sans-serif" font-size="7" font-weight="normal" font-style="normal" fill="#858585" text-anchor="middle" textLength="9.2" lengthAdjust="spacingAndGlyphs">9,0</text>
<line x1="487.5" y1="374.6" x2="487.5" y2="376.4" stroke="#bbb" stroke-width="0.8"/>
<text x="487.5" y="382.8" font-family="Liberation Sans, sans-serif" font-size="7" font-weight="normal" font-style="normal" fill="#858585" text-anchor="middle" textLength="9.2" lengthAdjust="spacingAndGlyphs">9,5</text>
<line x1="511.4" y1="374.6" x2="511.4" y2="376.4" stroke="#bbb" stroke-width="0.8"/>
<text x="511.4" y="382.8" font-family="Liberation Sans, sans-serif" font-size="7" font-weight="normal" font-style="normal" fill="#858585" text-anchor="middle" textLength="12.4" lengthAdjust="spacingAndGlyphs">10,0</text>
<line x1="535.3" y1="374.6" x2="535.3" y2="376.4" stroke="#bbb" stroke-width="0.8"/>
<text x="535.3" y="382.8" font-family="Liberation Sans, sans-serif" font-size="7" font-weight="normal" font-style="normal" fill="#858585" text-anchor="middle" textLength="12.4" lengthAdjust="spacingAndGlyphs">10,5</text>
<text x="284.7" y="394.5" font-family="DejaVu Sans, sans-serif" font-size="8" font-weight="bold" font-style="normal" fill="#444" text-anchor="middle" textLength="110.5" lengthAdjust="spacingAndGlyphs">Simulation Duration, Seconds</text>
<text transform="translate(21.2,309.5) rotate(-90)" x="0" y="0" font-family="DejaVu Sans, sans-serif" font-size="8" font-weight="bold" fill="#444" text-anchor="middle" textLength="50.3" lengthAdjust="spacingAndGlyphs">Denials count</text>
<path d="M40.2 331.1h0.6V372.4h-0.6zM47.1 358.6h1.0V372.4h-1.0zM49.1 358.6h0.9V372.4h-0.9zM50.0 344.9h1.2V372.4h-1.2zM52.2 317.4h1.2V372.4h-1.2zM53.4 344.9h0.6V372.4h-0.6zM53.9 358.6h1.1V372.4h-1.1zM55.1 331.1h0.6V372.4h-0.6zM58.0 358.6h1.2V372.4h-1.2zM59.2 358.6h0.6V372.4h-0.6zM64.3 358.6h1.2V372.4h-1.2zM65.6 344.9h0.6V372.4h-0.6zM66.1 344.9h0.5V372.4h-0.5zM66.6 358.6h0.8V372.4h-0.8zM68.6 344.9h0.7V372.4h-0.7zM71.4 317.4h1.0V372.4h-1.0zM74.9 344.9h1.0V372.4h-1.0zM75.9 344.9h0.8V372.4h-0.8zM76.6 358.6h0.6V372.4h-0.6zM77.2 344.9h0.7V372.4h-0.7zM80.0 331.1h1.2V372.4h-1.2zM82.3 317.4h1.0V372.4h-1.0zM83.3 303.6h0.8V372.4h-0.8zM86.5 358.6h1.1V372.4h-1.1zM88.6 344.9h1.0V372.4h-1.0zM93.4 358.6h0.7V372.4h-0.7zM94.8 344.9h0.6V372.4h-0.6zM95.4 317.4h1.0V372.4h-1.0zM96.9 344.9h0.9V372.4h-0.9zM97.8 358.6h1.2V372.4h-1.2zM99.0 344.9h0.7V372.4h-0.7zM100.9 317.4h1.2V372.4h-1.2zM103.6 344.9h0.5V372.4h-0.5zM104.1 289.8h1.0V372.4h-1.0zM105.2 289.8h1.0V372.4h-1.0zM107.5 303.6h0.9V372.4h-0.9zM111.0 317.4h1.1V372.4h-1.1zM112.2 317.4h1.1V372.4h-1.1zM114.0 317.4h0.7V372.4h-0.7zM116.2 317.4h0.8V372.4h-0.8zM117.0 331.1h1.2V372.4h-1.2zM122.4 344.9h0.9V372.4h-0.9zM123.3 344.9h1.0V372.4h-1.0zM124.3 331.1h0.8V372.4h-0.8zM125.1 344.9h1.2V372.4h-1.2zM126.3 331.1h1.2V372.4h-1.2zM127.5 344.9h0.5V372.4h-0.5zM128.1 344.9h0.6V372.4h-0.6zM128.7 331.1h0.8V372.4h-0.8zM129.4 317.4h0.5V372.4h-0.5zM131.0 331.1h1.2V372.4h-1.2zM133.4 331.1h1.0V372.4h-1.0zM135.5 344.9h1.2V372.4h-1.2zM137.7 331.1h0.8V372.4h-0.8zM141.7 344.9h0.9V372.4h-0.9zM142.6 344.9h0.5V372.4h-0.5zM143.2 344.9h0.7V372.4h-0.7zM148.3 317.4h0.9V372.4h-0.9zM149.2 331.1h0.8V372.4h-0.8zM151.1 331.1h0.6V372.4h-0.6zM151.7 331.1h1.1V372.4h-1.1zM152.8 358.6h1.0V372.4h-1.0zM153.9 331.1h1.2V372.4h-1.2zM155.1 317.4h1.1V372.4h-1.1zM156.2 331.1h0.5V372.4h-0.5zM157.6 344.9h0.7V372.4h-0.7zM158.3 358.6h0.9V372.4h-0.9zM159.2 358.6h0.7V372.4h-0.7zM159.9 303.6h1.2V372.4h-1.2zM161.1 331.1h0.9V372.4h-0.9zM162.6 331.1h0.9V372.4h-0.9zM165.6 331.1h0.8V372.4h-0.8zM166.4 331.1h0.6V372.4h-0.6zM169.3 317.4h0.7V372.4h-0.7zM170.0 344.9h0.6V372.4h-0.6zM172.9 344.9h1.1V372.4h-1.1zM174.0 317.4h0.8V372.4h-0.8zM176.7 317.4h0.7V372.4h-0.7zM178.7 344.9h1.2V372.4h-1.2zM180.4 317.4h0.8V372.4h-0.8zM182.4 317.4h0.8V372.4h-0.8zM183.9 344.9h0.8V372.4h-0.8zM184.7 317.4h1.2V372.4h-1.2zM186.3 344.9h0.6V372.4h-0.6zM186.9 317.4h0.8V372.4h-0.8zM187.7 344.9h1.0V372.4h-1.0zM189.7 331.1h1.2V372.4h-1.2zM190.9 331.1h1.1V372.4h-1.1zM192.6 344.9h0.8V372.4h-0.8zM193.4 331.1h0.7V372.4h-0.7zM194.0 344.9h1.1V372.4h-1.1zM197.2 331.1h0.9V372.4h-0.9zM204.1 303.6h0.9V372.4h-0.9zM205.0 331.1h0.5V372.4h-0.5zM208.3 358.6h1.2V372.4h-1.2zM209.5 331.1h0.7V372.4h-0.7zM210.2 317.4h0.9V372.4h-0.9zM211.1 344.9h0.6V372.4h-0.6zM213.1 358.6h0.7V372.4h-0.7zM214.8 331.1h0.9V372.4h-0.9zM215.7 289.8h0.7V372.4h-0.7zM218.8 317.4h1.2V372.4h-1.2zM220.0 358.6h0.6V372.4h-0.6zM221.2 344.9h0.7V372.4h-0.7zM226.6 344.9h0.8V372.4h-0.8zM227.4 303.6h0.7V372.4h-0.7zM228.6 331.1h0.9V372.4h-0.9zM229.5 344.9h0.6V372.4h-0.6zM230.1 303.6h1.1V372.4h-1.1zM231.2 331.1h0.8V372.4h-0.8zM232.0 303.6h0.8V372.4h-0.8zM232.8 317.4h0.6V372.4h-0.6zM233.4 344.9h1.0V372.4h-1.0zM234.4 358.6h1.1V372.4h-1.1zM236.7 317.4h0.5V372.4h-0.5zM237.3 289.8h1.0V372.4h-1.0zM238.9 331.1h0.8V372.4h-0.8zM239.7 303.6h1.1V372.4h-1.1zM240.9 331.1h1.1V372.4h-1.1zM242.0 331.1h0.8V372.4h-0.8zM242.8 317.4h1.0V372.4h-1.0zM243.8 331.1h0.7V372.4h-0.7zM244.5 331.1h0.6V372.4h-0.6zM246.3 317.4h1.2V372.4h-1.2zM247.5 344.9h0.5V372.4h-0.5zM248.0 317.4h0.9V372.4h-0.9zM248.9 331.1h1.0V372.4h-1.0zM249.8 303.6h0.9V372.4h-0.9zM250.7 303.6h1.2V372.4h-1.2zM252.6 289.8h1.1V372.4h-1.1zM253.7 303.6h1.0V372.4h-1.0zM254.6 289.8h0.6V372.4h-0.6zM255.2 317.4h1.2V372.4h-1.2zM256.4 344.9h0.8V372.4h-0.8zM257.8 358.6h1.0V372.4h-1.0zM258.8 303.6h0.8V372.4h-0.8zM259.6 358.6h1.1V372.4h-1.1zM260.7 317.4h0.8V372.4h-0.8zM261.5 358.6h1.2V372.4h-1.2zM262.7 303.6h1.0V372.4h-1.0zM263.6 303.6h1.0V372.4h-1.0zM264.6 358.6h0.6V372.4h-0.6zM265.3 331.1h0.9V372.4h-0.9zM266.1 344.9h0.6V372.4h-0.6zM266.7 331.1h0.7V372.4h-0.7zM267.4 289.8h0.7V372.4h-0.7zM268.1 344.9h1.2V372.4h-1.2zM269.3 317.4h0.8V372.4h-0.8zM271.1 317.4h1.2V372.4h-1.2zM272.3 358.6h0.5V372.4h-0.5zM275.0 358.6h1.0V372.4h-1.0zM276.0 358.6h0.9V372.4h-0.9zM276.9 358.6h0.6V372.4h-0.6zM278.0 358.6h0.7V372.4h-0.7zM278.7 344.9h0.7V372.4h-0.7zM279.4 289.8h0.6V372.4h-0.6zM286.8 358.6h0.9V372.4h-0.9zM287.7 344.9h1.0V372.4h-1.0zM288.8 344.9h0.6V372.4h-0.6zM289.4 358.6h1.1V372.4h-1.1zM290.4 317.4h1.2V372.4h-1.2zM294.5 358.6h0.7V372.4h-0.7zM295.2 344.9h1.2V372.4h-1.2zM298.5 344.9h0.8V372.4h-0.8zM300.2 331.1h1.1V372.4h-1.1zM303.4 317.4h0.7V372.4h-0.7zM305.5 317.4h0.7V372.4h-0.7zM306.2 344.9h0.6V372.4h-0.6zM306.8 331.1h0.6V372.4h-0.6zM307.4 317.4h0.8V372.4h-0.8zM308.2 276.1h1.1V372.4h-1.1zM313.1 358.6h0.8V372.4h-0.8zM315.7 303.6h1.0V372.4h-1.0zM316.8 344.9h0.9V372.4h-0.9zM317.7 358.6h1.1V372.4h-1.1zM319.5 344.9h0.6V372.4h-0.6zM320.1 358.6h0.8V372.4h-0.8zM322.8 358.6h1.2V372.4h-1.2zM324.0 344.9h0.9V372.4h-0.9zM324.9 358.6h0.9V372.4h-0.9zM326.4 344.9h1.2V372.4h-1.2zM328.8 344.9h0.8V372.4h-0.8zM330.5 344.9h0.8V372.4h-0.8zM331.3 344.9h1.2V372.4h-1.2zM332.5 344.9h1.1V372.4h-1.1zM334.4 358.6h1.1V372.4h-1.1zM336.1 331.1h1.0V372.4h-1.0zM338.1 317.4h0.8V372.4h-0.8zM338.9 331.1h0.6V372.4h-0.6zM339.5 317.4h1.1V372.4h-1.1zM340.5 303.6h1.1V372.4h-1.1zM344.8 331.1h0.9V372.4h-0.9zM345.7 317.4h0.7V372.4h-0.7zM346.4 331.1h0.5V372.4h-0.5zM346.9 331.1h1.2V372.4h-1.2zM348.1 289.8h0.7V372.4h-0.7zM348.8 331.1h1.0V372.4h-1.0zM349.8 303.6h0.8V372.4h-0.8zM351.6 344.9h0.8V372.4h-0.8zM352.4 331.1h0.7V372.4h-0.7zM353.1 303.6h0.9V372.4h-0.9zM354.0 331.1h0.8V372.4h-0.8zM358.7 331.1h0.7V372.4h-0.7zM359.4 317.4h0.8V372.4h-0.8zM361.1 331.1h1.1V372.4h-1.1zM362.9 331.1h1.2V372.4h-1.2zM364.0 331.1h1.2V372.4h-1.2zM365.2 344.9h0.8V372.4h-0.8zM366.0 303.6h0.8V372.4h-0.8zM369.6 317.4h0.9V372.4h-0.9zM370.5 303.6h0.6V372.4h-0.6zM371.9 317.4h1.2V372.4h-1.2zM373.0 317.4h1.0V372.4h-1.0zM374.6 317.4h0.7V372.4h-0.7zM376.2 331.1h0.8V372.4h-0.8zM377.0 289.8h0.9V372.4h-0.9zM377.8 331.1h0.6V372.4h-0.6zM379.0 358.6h1.1V372.4h-1.1zM380.2 331.1h0.9V372.4h-0.9zM381.8 317.4h1.1V372.4h-1.1zM382.9 344.9h1.1V372.4h-1.1zM385.0 317.4h0.5V372.4h-0.5zM388.4 331.1h1.1V372.4h-1.1zM389.5 303.6h1.0V372.4h-1.0zM390.6 358.6h0.6V372.4h-0.6zM391.2 331.1h1.0V372.4h-1.0zM392.7 344.9h0.8V372.4h-0.8zM393.5 303.6h0.8V372.4h-0.8zM394.3 303.6h1.0V372.4h-1.0zM395.9 331.1h0.5V372.4h-0.5zM397.4 289.8h0.9V372.4h-0.9zM399.8 344.9h0.8V372.4h-0.8zM401.4 344.9h0.7V372.4h-0.7zM402.1 344.9h0.9V372.4h-0.9zM403.0 303.6h0.9V372.4h-0.9zM404.7 331.1h1.0V372.4h-1.0zM405.7 317.4h1.1V372.4h-1.1zM406.9 331.1h0.7V372.4h-0.7zM407.6 289.8h0.5V372.4h-0.5zM408.9 289.8h0.7V372.4h-0.7zM410.7 344.9h1.1V372.4h-1.1zM412.7 317.4h1.2V372.4h-1.2zM414.7 317.4h0.7V372.4h-0.7zM415.4 289.8h0.5V372.4h-0.5zM416.9 331.1h1.1V372.4h-1.1zM418.7 303.6h1.1V372.4h-1.1zM419.8 317.4h0.9V372.4h-0.9zM420.6 358.6h0.8V372.4h-0.8zM422.1 289.8h0.6V372.4h-0.6zM422.8 303.6h1.1V372.4h-1.1zM423.8 317.4h0.7V372.4h-0.7zM424.6 331.1h0.8V372.4h-0.8zM425.3 303.6h0.6V372.4h-0.6zM426.0 276.1h1.2V372.4h-1.2zM429.9 317.4h0.6V372.4h-0.6zM431.5 331.1h1.0V372.4h-1.0zM434.0 317.4h0.7V372.4h-0.7zM434.7 331.1h0.8V372.4h-0.8zM435.4 344.9h0.7V372.4h-0.7zM436.2 331.1h1.1V372.4h-1.1zM437.3 303.6h1.1V372.4h-1.1zM438.4 331.1h0.6V372.4h-0.6zM439.1 344.9h0.9V372.4h-0.9zM440.5 331.1h0.6V372.4h-0.6zM442.8 331.1h0.9V372.4h-0.9zM443.7 317.4h0.5V372.4h-0.5zM444.2 331.1h1.1V372.4h-1.1zM445.9 344.9h0.9V372.4h-0.9zM452.8 289.8h1.2V372.4h-1.2zM454.7 303.6h1.1V372.4h-1.1zM456.7 358.6h0.7V372.4h-0.7zM457.4 358.6h0.7V372.4h-0.7zM458.1 317.4h0.8V372.4h-0.8zM458.9 289.8h0.8V372.4h-0.8zM462.9 331.1h0.6V372.4h-0.6zM463.5 331.1h0.7V372.4h-0.7zM464.2 331.1h0.9V372.4h-0.9zM465.1 344.9h0.8V372.4h-0.8zM465.9 331.1h0.8V372.4h-0.8zM466.7 303.6h0.9V372.4h-0.9zM468.2 344.9h1.0V372.4h-1.0zM469.2 344.9h0.8V372.4h-0.8zM469.9 331.1h1.2V372.4h-1.2zM471.2 344.9h0.6V372.4h-0.6zM471.7 331.1h0.5V372.4h-0.5zM474.2 331.1h0.7V372.4h-0.7zM474.8 276.1h0.5V372.4h-0.5zM475.3 276.1h0.8V372.4h-0.8zM480.0 358.6h0.9V372.4h-0.9zM480.9 317.4h0.6V372.4h-0.6zM481.5 289.8h1.2V372.4h-1.2zM482.7 331.1h1.0V372.4h-1.0zM483.7 317.4h0.5V372.4h-0.5zM484.2 358.6h1.0V372.4h-1.0zM485.2 358.6h0.7V372.4h-0.7zM486.0 344.9h1.1V372.4h-1.1zM490.3 344.9h0.6V372.4h-0.6zM491.8 331.1h1.0V372.4h-1.0zM492.8 344.9h1.0V372.4h-1.0zM493.8 303.6h0.8V372.4h-0.8zM495.1 344.9h1.2V372.4h-1.2zM496.3 317.4h0.6V372.4h-0.6zM496.9 344.9h1.2V372.4h-1.2zM498.9 358.6h1.2V372.4h-1.2zM503.9 317.4h1.1V372.4h-1.1zM505.0 331.1h1.2V372.4h-1.2zM507.1 317.4h0.9V372.4h-0.9zM509.8 344.9h1.2V372.4h-1.2zM511.1 317.4h0.3V372.4h-0.3z" fill="#f6cc80" fill-opacity="1"/>
<path d="M224.3 276.1h0.9V372.4h-0.9zM247.2 248.6h0.9V372.4h-0.9zM250.4 248.6h0.9V372.4h-0.9zM240.2 276.1h0.8V372.4h-0.8zM255.0 276.1h0.8V372.4h-0.8z" fill="#f6cc80" fill-opacity="1"/>
<path d="M40.6 344.9h0.6V372.4h-0.6zM41.9 358.6h1.0V372.4h-1.0zM44.4 358.6h0.9V372.4h-0.9zM46.2 331.1h1.0V372.4h-1.0zM49.4 331.1h1.0V372.4h-1.0zM50.4 344.9h0.8V372.4h-0.8zM51.2 344.9h1.2V372.4h-1.2zM52.4 358.6h1.2V372.4h-1.2zM53.6 317.4h0.8V372.4h-0.8zM55.0 358.6h1.1V372.4h-1.1zM56.2 344.9h0.7V372.4h-0.7zM62.0 358.6h0.7V372.4h-0.7zM63.4 358.6h0.7V372.4h-0.7zM64.1 331.1h0.8V372.4h-0.8zM65.0 331.1h0.8V372.4h-0.8zM66.5 358.6h0.6V372.4h-0.6zM67.1 303.6h1.1V372.4h-1.1zM69.8 344.9h1.0V372.4h-1.0zM70.8 317.4h1.0V372.4h-1.0zM71.8 358.6h0.9V372.4h-0.9zM72.7 344.9h1.1V372.4h-1.1zM75.5 344.9h0.8V372.4h-0.8zM76.4 317.4h1.2V372.4h-1.2zM77.5 317.4h0.6V372.4h-0.6zM78.8 358.6h0.5V372.4h-0.5zM79.3 317.4h0.9V372.4h-0.9zM81.5 331.1h1.1V372.4h-1.1zM82.5 358.6h0.5V372.4h-0.5zM83.0 344.9h0.9V372.4h-0.9zM84.0 317.4h0.7V372.4h-0.7zM84.7 317.4h1.0V372.4h-1.0zM85.7 358.6h0.6V372.4h-0.6zM86.3 358.6h1.1V372.4h-1.1zM87.9 358.6h0.6V372.4h-0.6zM90.5 317.4h0.8V372.4h-0.8zM92.1 344.9h0.6V372.4h-0.6zM92.7 358.6h0.9V372.4h-0.9zM93.6 344.9h0.5V372.4h-0.5zM94.6 331.1h1.2V372.4h-1.2zM95.9 303.6h0.9V372.4h-0.9zM99.3 331.1h0.8V372.4h-0.8zM101.3 331.1h0.7V372.4h-0.7zM102.0 331.1h1.1V372.4h-1.1zM103.1 317.4h1.0V372.4h-1.0zM104.1 344.9h1.1V372.4h-1.1zM105.9 331.1h1.1V372.4h-1.1zM108.3 317.4h1.1V372.4h-1.1zM110.6 331.1h1.0V372.4h-1.0zM111.6 344.9h1.1V372.4h-1.1zM112.7 303.6h1.2V372.4h-1.2zM113.9 317.4h0.8V372.4h-0.8zM116.8 331.1h0.8V372.4h-0.8zM117.6 358.6h0.5V372.4h-0.5zM118.9 358.6h0.5V372.4h-0.5zM120.2 344.9h0.8V372.4h-0.8zM121.0 331.1h0.6V372.4h-0.6zM122.1 331.1h0.8V372.4h-0.8zM122.9 344.9h1.2V372.4h-1.2zM124.8 358.6h1.1V372.4h-1.1zM125.9 344.9h1.0V372.4h-1.0zM129.9 358.6h0.5V372.4h-0.5zM130.4 344.9h0.7V372.4h-0.7zM133.0 331.1h1.2V372.4h-1.2zM134.2 344.9h1.2V372.4h-1.2zM135.4 344.9h0.8V372.4h-0.8zM137.1 344.9h0.7V372.4h-0.7zM140.5 344.9h0.6V372.4h-0.6zM141.1 331.1h0.8V372.4h-0.8zM141.8 344.9h0.7V372.4h-0.7zM143.7 303.6h0.8V372.4h-0.8zM145.3 331.1h0.6V372.4h-0.6zM145.9 331.1h0.7V372.4h-0.7zM147.6 317.4h1.2V372.4h-1.2zM148.8 344.9h1.1V372.4h-1.1zM149.9 317.4h1.1V372.4h-1.1zM152.7 331.1h1.2V372.4h-1.2zM154.8 344.9h1.0V372.4h-1.0zM155.8 331.1h0.9V372.4h-0.9zM156.7 317.4h0.9V372.4h-0.9zM159.6 317.4h1.2V372.4h-1.2zM162.5 331.1h0.8V372.4h-0.8zM164.0 331.1h0.9V372.4h-0.9zM172.0 344.9h0.9V372.4h-0.9zM174.7 344.9h0.8V372.4h-0.8zM175.4 331.1h1.0V372.4h-1.0zM176.5 331.1h0.9V372.4h-0.9zM177.4 317.4h1.2V372.4h-1.2zM178.6 344.9h1.2V372.4h-1.2zM180.8 317.4h0.6V372.4h-0.6zM182.2 331.1h0.9V372.4h-0.9zM184.2 317.4h1.1V372.4h-1.1zM185.3 317.4h1.2V372.4h-1.2zM186.5 331.1h0.9V372.4h-0.9zM187.4 331.1h0.9V372.4h-0.9zM189.6 331.1h0.6V372.4h-0.6zM190.2 317.4h1.2V372.4h-1.2zM192.3 331.1h0.6V372.4h-0.6zM193.6 317.4h0.6V372.4h-0.6zM194.1 331.1h0.8V372.4h-0.8zM195.5 331.1h1.1V372.4h-1.1zM197.2 317.4h1.1V372.4h-1.1zM198.3 344.9h0.6V372.4h-0.6zM198.9 344.9h1.2V372.4h-1.2zM202.0 358.6h1.1V372.4h-1.1zM203.1 317.4h0.6V372.4h-0.6zM206.4 344.9h0.5V372.4h-0.5zM207.0 344.9h1.0V372.4h-1.0zM207.9 344.9h1.0V372.4h-1.0zM209.6 331.1h0.9V372.4h-0.9zM211.5 331.1h1.1V372.4h-1.1zM213.3 331.1h0.5V372.4h-0.5zM213.8 344.9h0.7V372.4h-0.7zM214.5 344.9h0.9V372.4h-0.9zM215.4 344.9h1.2V372.4h-1.2zM217.8 344.9h1.1V372.4h-1.1zM218.9 331.1h1.0V372.4h-1.0zM221.1 344.9h1.0V372.4h-1.0zM222.1 303.6h0.5V372.4h-0.5zM222.7 344.9h0.8V372.4h-0.8zM224.1 303.6h0.6V372.4h-0.6zM225.3 344.9h1.0V372.4h-1.0zM226.3 317.4h0.7V372.4h-0.7zM227.0 331.1h1.0V372.4h-1.0zM229.3 344.9h1.1V372.4h-1.1zM230.4 344.9h1.2V372.4h-1.2zM231.6 331.1h0.9V372.4h-0.9zM232.5 344.9h0.9V372.4h-0.9zM234.6 317.4h0.8V372.4h-0.8zM236.3 344.9h0.9V372.4h-0.9zM237.2 331.1h0.8V372.4h-0.8zM238.7 358.6h1.1V372.4h-1.1zM241.7 358.6h1.0V372.4h-1.0zM242.7 358.6h0.7V372.4h-0.7zM243.4 303.6h0.8V372.4h-0.8zM244.2 331.1h0.8V372.4h-0.8zM245.0 344.9h0.9V372.4h-0.9zM245.9 331.1h1.0V372.4h-1.0zM247.8 344.9h0.8V372.4h-0.8zM248.6 317.4h0.9V372.4h-0.9zM249.5 358.6h0.8V372.4h-0.8zM250.2 331.1h0.9V372.4h-0.9zM251.2 331.1h1.2V372.4h-1.2zM252.4 317.4h1.2V372.4h-1.2zM253.6 331.1h1.1V372.4h-1.1zM255.5 317.4h1.1V372.4h-1.1zM256.6 317.4h0.8V372.4h-0.8zM257.4 317.4h1.0V372.4h-1.0zM258.3 331.1h0.5V372.4h-0.5zM258.8 317.4h0.8V372.4h-0.8zM261.7 317.4h1.2V372.4h-1.2zM262.9 344.9h0.7V372.4h-0.7zM263.6 358.6h1.1V372.4h-1.1zM265.9 317.4h0.6V372.4h-0.6zM266.5 317.4h0.7V372.4h-0.7zM267.7 344.9h0.5V372.4h-0.5zM269.0 303.6h1.0V372.4h-1.0zM270.0 344.9h0.9V372.4h-0.9zM273.8 331.1h1.1V372.4h-1.1zM293.7 358.6h0.5V372.4h-0.5zM294.2 358.6h1.0V372.4h-1.0zM297.2 344.9h1.1V372.4h-1.1zM305.4 344.9h0.8V372.4h-0.8zM307.9 344.9h1.0V372.4h-1.0zM311.0 344.9h1.2V372.4h-1.2zM317.7 358.6h0.6V372.4h-0.6zM319.0 344.9h0.6V372.4h-0.6zM320.5 331.1h0.7V372.4h-0.7zM330.0 358.6h1.1V372.4h-1.1zM349.5 331.1h1.1V372.4h-1.1zM353.6 358.6h0.8V372.4h-0.8zM355.3 358.6h1.0V372.4h-1.0zM359.0 289.8h0.7V372.4h-0.7zM360.7 331.1h0.6V372.4h-0.6zM365.5 331.1h1.2V372.4h-1.2zM368.1 344.9h0.5V372.4h-0.5zM375.2 344.9h0.9V372.4h-0.9zM383.7 344.9h1.1V372.4h-1.1zM384.8 358.6h0.7V372.4h-0.7zM385.5 358.6h1.2V372.4h-1.2zM407.8 358.6h0.6V372.4h-0.6zM412.0 344.9h1.1V372.4h-1.1zM417.6 358.6h1.1V372.4h-1.1zM423.0 344.9h0.7V372.4h-0.7zM423.7 358.6h0.5V372.4h-0.5zM425.9 344.9h0.7V372.4h-0.7zM431.6 276.1h1.1V372.4h-1.1zM432.7 358.6h1.2V372.4h-1.2zM434.8 331.1h1.1V372.4h-1.1zM450.7 358.6h1.1V372.4h-1.1zM452.5 331.1h1.0V372.4h-1.0zM454.1 344.9h1.2V372.4h-1.2zM458.6 344.9h0.5V372.4h-0.5zM459.2 358.6h1.1V372.4h-1.1zM461.2 358.6h0.9V372.4h-0.9zM478.8 344.9h0.8V372.4h-0.8zM492.6 317.4h1.2V372.4h-1.2zM493.8 358.6h0.9V372.4h-0.9zM496.7 358.6h1.0V372.4h-1.0zM497.7 344.9h1.1V372.4h-1.1zM501.9 344.9h0.6V372.4h-0.6zM502.5 358.6h0.9V372.4h-0.9zM504.6 331.1h1.1V372.4h-1.1zM509.6 358.6h0.7V372.4h-0.7z" fill="#86ec86" fill-opacity="1"/>
<path d="M39.5 358.6h0.8V372.4h-0.8zM40.3 358.6h1.1V372.4h-1.1zM44.0 317.4h0.7V372.4h-0.7zM48.5 358.6h0.6V372.4h-0.6zM49.1 358.6h1.1V372.4h-1.1zM50.2 303.6h0.9V372.4h-0.9zM51.1 344.9h0.9V372.4h-0.9zM56.6 331.1h1.0V372.4h-1.0zM57.6 358.6h0.9V372.4h-0.9zM59.2 358.6h0.9V372.4h-0.9zM60.9 358.6h0.7V372.4h-0.7zM62.7 331.1h1.0V372.4h-1.0zM66.1 358.6h0.8V372.4h-0.8zM66.9 331.1h1.0V372.4h-1.0zM68.9 358.6h0.7V372.4h-0.7zM70.2 358.6h1.2V372.4h-1.2zM72.0 358.6h0.7V372.4h-0.7zM72.7 358.6h1.0V372.4h-1.0zM74.4 358.6h0.8V372.4h-0.8zM75.2 344.9h0.7V372.4h-0.7zM76.0 344.9h0.6V372.4h-0.6zM77.6 358.6h1.2V372.4h-1.2zM80.3 344.9h0.8V372.4h-0.8zM81.9 344.9h1.2V372.4h-1.2zM84.9 344.9h1.1V372.4h-1.1zM87.9 344.9h1.1V372.4h-1.1zM89.9 358.6h0.6V372.4h-0.6zM91.5 317.4h1.0V372.4h-1.0zM93.1 344.9h1.0V372.4h-1.0zM98.2 358.6h1.2V372.4h-1.2zM100.9 358.6h0.6V372.4h-0.6zM104.1 358.6h0.7V372.4h-0.7zM105.4 358.6h0.6V372.4h-0.6zM106.0 317.4h0.7V372.4h-0.7zM106.7 358.6h0.9V372.4h-0.9zM107.6 344.9h0.9V372.4h-0.9zM108.5 358.6h1.0V372.4h-1.0zM111.1 358.6h1.2V372.4h-1.2zM112.3 344.9h1.1V372.4h-1.1zM113.4 358.6h1.2V372.4h-1.2zM116.5 331.1h0.7V372.4h-0.7zM120.2 344.9h1.2V372.4h-1.2zM123.4 317.4h0.7V372.4h-0.7zM124.8 331.1h0.7V372.4h-0.7zM125.5 358.6h1.0V372.4h-1.0zM127.7 344.9h1.2V372.4h-1.2zM130.5 358.6h1.1V372.4h-1.1zM131.6 358.6h1.1V372.4h-1.1zM132.6 344.9h0.7V372.4h-0.7zM133.3 358.6h1.2V372.4h-1.2zM136.2 344.9h0.9V372.4h-0.9zM140.6 331.1h1.1V372.4h-1.1zM141.7 344.9h1.2V372.4h-1.2zM143.4 344.9h1.2V372.4h-1.2zM148.8 358.6h1.2V372.4h-1.2zM154.8 344.9h0.6V372.4h-0.6zM156.6 317.4h0.6V372.4h-0.6zM158.2 358.6h1.2V372.4h-1.2zM160.2 358.6h0.8V372.4h-0.8zM162.8 344.9h1.1V372.4h-1.1zM165.1 344.9h1.1V372.4h-1.1zM166.3 331.1h0.6V372.4h-0.6zM167.8 303.6h0.7V372.4h-0.7zM170.7 358.6h1.0V372.4h-1.0zM171.7 331.1h1.2V372.4h-1.2zM172.9 331.1h1.0V372.4h-1.0zM173.9 331.1h0.8V372.4h-0.8zM174.8 344.9h0.8V372.4h-0.8zM176.7 344.9h1.1V372.4h-1.1zM177.8 358.6h0.6V372.4h-0.6zM178.4 358.6h0.9V372.4h-0.9zM179.3 344.9h0.5V372.4h-0.5zM179.8 344.9h0.8V372.4h-0.8zM181.3 358.6h0.8V372.4h-0.8zM184.9 344.9h1.0V372.4h-1.0zM185.9 358.6h0.5V372.4h-0.5zM191.7 317.4h0.7V372.4h-0.7zM192.4 344.9h0.9V372.4h-0.9zM193.3 331.1h1.0V372.4h-1.0zM194.3 317.4h0.6V372.4h-0.6zM198.1 344.9h1.1V372.4h-1.1zM199.2 344.9h1.2V372.4h-1.2zM200.4 358.6h1.0V372.4h-1.0zM203.5 331.1h0.5V372.4h-0.5zM208.3 344.9h0.6V372.4h-0.6zM208.9 358.6h0.7V372.4h-0.7zM209.6 344.9h1.2V372.4h-1.2zM210.8 331.1h0.6V372.4h-0.6zM214.1 358.6h1.1V372.4h-1.1zM215.3 344.9h0.8V372.4h-0.8zM216.1 331.1h0.6V372.4h-0.6zM222.5 344.9h0.9V372.4h-0.9zM224.7 331.1h0.9V372.4h-0.9zM234.7 358.6h0.8V372.4h-0.8zM237.4 358.6h0.9V372.4h-0.9zM239.9 344.9h1.0V372.4h-1.0zM240.9 358.6h0.6V372.4h-0.6zM245.8 358.6h0.7V372.4h-0.7zM250.6 358.6h1.1V372.4h-1.1zM251.7 358.6h1.2V372.4h-1.2zM257.3 358.6h1.2V372.4h-1.2zM258.5 358.6h1.0V372.4h-1.0zM260.4 358.6h0.5V372.4h-0.5zM260.9 358.6h1.1V372.4h-1.1zM262.1 358.6h0.8V372.4h-0.8zM262.9 358.6h0.9V372.4h-0.9zM263.8 358.6h0.5V372.4h-0.5zM266.1 358.6h0.5V372.4h-0.5zM269.3 358.6h0.5V372.4h-0.5zM305.7 358.6h0.9V372.4h-0.9zM323.9 358.6h0.8V372.4h-0.8zM327.0 358.6h0.5V372.4h-0.5zM405.7 358.6h1.0V372.4h-1.0zM437.8 358.6h0.6V372.4h-0.6z" fill="#7c7cf0" fill-opacity="1"/>
<path d="M33.4 358.6h1.2V372.4h-1.2zM37.6 358.6h0.7V372.4h-0.7zM41.7 358.6h0.9V372.4h-0.9zM43.3 358.6h0.8V372.4h-0.8zM45.2 358.6h1.0V372.4h-1.0zM46.2 358.6h0.9V372.4h-0.9zM47.1 358.6h1.2V372.4h-1.2zM50.0 358.6h0.6V372.4h-0.6zM51.2 358.6h0.5V372.4h-0.5zM52.4 358.6h1.0V372.4h-1.0zM54.3 358.6h0.9V372.4h-0.9zM55.2 358.6h0.7V372.4h-0.7zM56.0 358.6h1.0V372.4h-1.0zM57.0 358.6h1.2V372.4h-1.2zM60.1 358.6h0.5V372.4h-0.5zM63.0 358.6h1.1V372.4h-1.1zM64.9 358.6h1.2V372.4h-1.2zM70.1 358.6h0.7V372.4h-0.7zM78.1 358.6h0.8V372.4h-0.8zM81.0 358.6h0.8V372.4h-0.8zM84.3 358.6h0.8V372.4h-0.8zM85.6 358.6h0.6V372.4h-0.6zM86.2 358.6h0.7V372.4h-0.7zM89.9 358.6h0.8V372.4h-0.8zM93.1 344.9h0.8V372.4h-0.8zM93.9 358.6h1.2V372.4h-1.2zM96.4 358.6h0.6V372.4h-0.6zM97.0 358.6h0.7V372.4h-0.7zM98.4 358.6h0.7V372.4h-0.7zM99.1 358.6h1.1V372.4h-1.1zM104.1 358.6h0.7V372.4h-0.7zM106.6 358.6h0.5V372.4h-0.5zM109.8 358.6h0.8V372.4h-0.8zM110.6 358.6h1.0V372.4h-1.0zM114.1 358.6h0.9V372.4h-0.9zM116.2 358.6h0.8V372.4h-0.8zM118.7 358.6h1.0V372.4h-1.0zM120.2 358.6h1.2V372.4h-1.2zM122.5 358.6h1.2V372.4h-1.2zM128.1 358.6h1.1V372.4h-1.1zM130.4 358.6h0.9V372.4h-0.9zM131.2 358.6h0.7V372.4h-0.7zM133.5 358.6h0.5V372.4h-0.5zM145.9 344.9h0.9V372.4h-0.9zM147.6 344.9h0.6V372.4h-0.6zM150.1 358.6h0.7V372.4h-0.7zM152.6 358.6h0.9V372.4h-0.9zM153.5 358.6h1.1V372.4h-1.1zM159.5 358.6h0.6V372.4h-0.6zM161.1 358.6h1.1V372.4h-1.1zM163.0 358.6h1.0V372.4h-1.0zM164.0 358.6h1.2V372.4h-1.2zM165.8 358.6h0.7V372.4h-0.7zM167.9 358.6h0.9V372.4h-0.9zM169.9 344.9h0.9V372.4h-0.9zM171.6 358.6h1.0V372.4h-1.0zM174.4 344.9h0.8V372.4h-0.8zM178.0 358.6h0.5V372.4h-0.5zM178.5 344.9h0.9V372.4h-0.9zM181.7 358.6h1.0V372.4h-1.0zM184.9 358.6h1.1V372.4h-1.1zM186.5 344.9h1.2V372.4h-1.2zM188.8 358.6h1.0V372.4h-1.0zM191.8 344.9h0.9V372.4h-0.9zM193.6 358.6h0.6V372.4h-0.6zM194.2 344.9h1.0V372.4h-1.0zM195.2 358.6h1.2V372.4h-1.2zM196.4 358.6h1.1V372.4h-1.1zM198.6 358.6h1.0V372.4h-1.0zM199.7 358.6h0.7V372.4h-0.7zM201.3 358.6h0.8V372.4h-0.8zM203.6 358.6h1.1V372.4h-1.1zM205.5 358.6h1.0V372.4h-1.0zM206.5 358.6h1.0V372.4h-1.0zM208.2 358.6h1.0V372.4h-1.0zM210.0 358.6h1.1V372.4h-1.1zM213.5 358.6h0.7V372.4h-0.7zM214.2 358.6h0.9V372.4h-0.9zM216.0 358.6h0.8V372.4h-0.8zM218.9 358.6h1.0V372.4h-1.0zM219.9 358.6h0.8V372.4h-0.8zM221.2 358.6h0.6V372.4h-0.6zM226.3 358.6h1.2V372.4h-1.2zM235.3 358.6h1.0V372.4h-1.0zM236.3 358.6h0.7V372.4h-0.7zM238.0 358.6h0.9V372.4h-0.9zM241.8 358.6h0.6V372.4h-0.6zM242.4 358.6h1.1V372.4h-1.1zM243.5 358.6h1.1V372.4h-1.1zM245.2 358.6h0.6V372.4h-0.6zM246.7 358.6h0.6V372.4h-0.6zM248.0 344.9h1.0V372.4h-1.0zM249.9 358.6h0.7V372.4h-0.7zM257.8 358.6h0.8V372.4h-0.8zM259.5 358.6h1.0V372.4h-1.0zM263.0 358.6h1.1V372.4h-1.1zM264.9 358.6h1.2V372.4h-1.2zM268.9 358.6h0.9V372.4h-0.9zM271.4 358.6h0.5V372.4h-0.5zM297.9 358.6h0.7V372.4h-0.7zM313.8 358.6h1.0V372.4h-1.0zM324.5 358.6h0.6V372.4h-0.6zM331.1 358.6h0.8V372.4h-0.8zM333.8 358.6h0.6V372.4h-0.6zM369.0 358.6h1.0V372.4h-1.0zM370.6 358.6h1.0V372.4h-1.0zM418.3 358.6h1.1V372.4h-1.1zM434.9 358.6h0.7V372.4h-0.7zM439.7 358.6h0.7V372.4h-0.7zM471.0 358.6h0.9V372.4h-0.9zM474.7 358.6h0.7V372.4h-0.7zM484.0 358.6h1.2V372.4h-1.2zM495.1 344.9h1.0V372.4h-1.0zM502.3 358.6h0.9V372.4h-0.9z" fill="#ee7878" fill-opacity="1"/>
<line x1="33.5" y1="372.4" x2="511.4" y2="372.4" stroke="#7a5a6a" stroke-width="1"/>
<line x1="39.6" y1="298.6" x2="228.3" y2="298.6" stroke="#111" stroke-width="1.5"/><polygon points="34.6,298.6 41.6,295.20000000000005 41.6,302.0" fill="#111"/><polygon points="233.3,298.6 226.3,295.20000000000005 226.3,302.0" fill="#111"/>
<line x1="238.8" y1="298.4" x2="510.20000000000005" y2="298.4" stroke="#111" stroke-width="1.5"/><polygon points="233.8,298.4 240.8,295.0 240.8,301.79999999999995" fill="#111"/><polygon points="515.2,298.4 508.20000000000005,295.0 508.20000000000005,301.79999999999995" fill="#111"/>
<text x="81.5" y="292.4" font-family="Liberation Sans, sans-serif" font-size="8.7" font-weight="normal" font-style="italic" fill="#111" text-anchor="start" textLength="96.5" lengthAdjust="spacingAndGlyphs" stroke="#111" stroke-width="0.18">Phase I (existing method)</text>
<text x="330" y="292.6" font-family="Liberation Sans, sans-serif" font-size="8.7" font-weight="normal" font-style="italic" fill="#111" text-anchor="start" textLength="104" lengthAdjust="spacingAndGlyphs" stroke="#111" stroke-width="0.18">Phase II (proposed method)</text>
<rect x="236.3" y="401" width="77.2" height="11.1" fill="#fff" stroke="#707070" stroke-width="0.9"/>
<line x1="237.7" y1="406.4" x2="245" y2="406.4" stroke="#ea7070" stroke-width="1"/>
<text x="246.8" y="409.6" font-family="Liberation Sans, sans-serif" font-size="7" font-weight="normal" font-style="normal" fill="#555" text-anchor="start" textLength="7.2" lengthAdjust="spacingAndGlyphs">L1</text>
<line x1="256.8" y1="406.4" x2="264" y2="406.4" stroke="#7070ee" stroke-width="1"/>
<text x="265.4" y="409.6" font-family="Liberation Sans, sans-serif" font-size="7" font-weight="normal" font-style="normal" fill="#555" text-anchor="start" textLength="8.3" lengthAdjust="spacingAndGlyphs">L2</text>
<line x1="275.9" y1="406.4" x2="283" y2="406.4" stroke="#7ce87c" stroke-width="1"/>
<text x="284.6" y="409.6" font-family="Liberation Sans, sans-serif" font-size="7" font-weight="normal" font-style="normal" fill="#555" text-anchor="start" textLength="7.7" lengthAdjust="spacingAndGlyphs">L3</text>
<line x1="295" y1="406.4" x2="302.3" y2="406.4" stroke="#f4c872" stroke-width="1"/>
<text x="303.5" y="409.6" font-family="Liberation Sans, sans-serif" font-size="7" font-weight="normal" font-style="normal" fill="#555" text-anchor="start" textLength="7.3" lengthAdjust="spacingAndGlyphs">L4</text></svg>
</body></html>
